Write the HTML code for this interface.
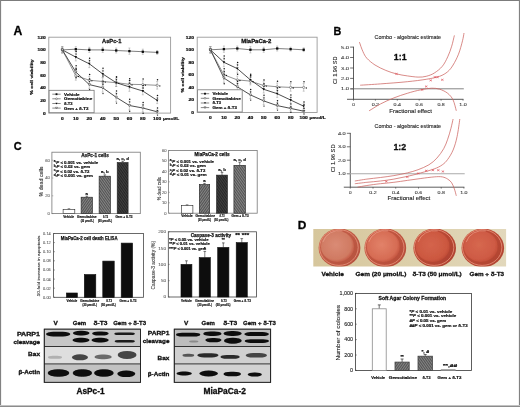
<!DOCTYPE html>
<html lang="en">
<head>
<meta charset="utf-8">
<title>Figure</title>
<style>
html, body { margin: 0; padding: 0; background: #fff; }
body { width: 520px; height: 407px; overflow: hidden; position: relative; }
svg { position: absolute; left: 0; top: 0; font-family: "Liberation Sans", sans-serif; }
svg text { font-family: "Liberation Sans", sans-serif; }
</style>
</head>
<body>
<svg width="520" height="407" viewBox="0 0 520 407">
<defs>
<pattern id="hatchG" width="2" height="2" patternUnits="userSpaceOnUse" patternTransform="rotate(35)">
<rect width="2" height="2" fill="#858585"/><rect width="0.9" height="2" fill="#4c4c4c"/>
</pattern>
<pattern id="hatchH" width="2" height="2" patternUnits="userSpaceOnUse" patternTransform="rotate(-35)">
<rect width="2" height="2" fill="#858585"/><rect width="0.9" height="2" fill="#4c4c4c"/>
</pattern>
<pattern id="hatchD" width="2" height="2" patternUnits="userSpaceOnUse" patternTransform="rotate(-35)">
<rect width="2" height="2" fill="#262626"/><rect width="0.5" height="2" fill="#5a5a5a"/>
</pattern>
<linearGradient id="photobg" x1="0" y1="0" x2="1" y2="0"><stop offset="0" stop-color="#d6c69c"/><stop offset="0.5" stop-color="#dccfaa"/><stop offset="1" stop-color="#e2d8bc"/></linearGradient>
<filter id="blur2" x="-5%" y="-5%" width="110%" height="110%"><feGaussianBlur stdDeviation="0.35"/></filter>
<filter id="soft" x="0" y="0" width="520" height="407" filterUnits="userSpaceOnUse"><feGaussianBlur stdDeviation="0.32"/></filter>
<filter id="blur1" x="-5%" y="-5%" width="110%" height="110%"><feGaussianBlur stdDeviation="0.55"/></filter>
</defs>
<rect x="0" y="0" width="520" height="407" fill="#fff"/>
<g filter="url(#soft)">
<g id="panelA">
<text x="13.5" y="34.7" font-size="12" font-weight="bold" fill="#000" stroke="#000" stroke-width="0.30" textLength="8.8" lengthAdjust="spacingAndGlyphs">A</text>
<rect x="48.8" y="37.2" width="121.8" height="75.9" fill="none" stroke="#9a9a9a" stroke-width="0.9"/>
<text x="43.0" y="114.5" font-size="3.9" font-weight="bold" fill="#111" stroke="#111" stroke-width="0.20" textLength="2.7" lengthAdjust="spacingAndGlyphs">0</text>
<text x="40.2" y="101.8" font-size="3.9" font-weight="bold" fill="#111" stroke="#111" stroke-width="0.20" textLength="5.5" lengthAdjust="spacingAndGlyphs">20</text>
<text x="40.2" y="89.2" font-size="3.9" font-weight="bold" fill="#111" stroke="#111" stroke-width="0.20" textLength="5.5" lengthAdjust="spacingAndGlyphs">40</text>
<text x="40.2" y="76.6" font-size="3.9" font-weight="bold" fill="#111" stroke="#111" stroke-width="0.20" textLength="5.5" lengthAdjust="spacingAndGlyphs">60</text>
<text x="40.2" y="63.9" font-size="3.9" font-weight="bold" fill="#111" stroke="#111" stroke-width="0.20" textLength="5.5" lengthAdjust="spacingAndGlyphs">80</text>
<text x="37.6" y="51.2" font-size="3.9" font-weight="bold" fill="#111" stroke="#111" stroke-width="0.20" textLength="8.1" lengthAdjust="spacingAndGlyphs">100</text>
<text x="37.6" y="38.6" font-size="3.9" font-weight="bold" fill="#111" stroke="#111" stroke-width="0.20" textLength="8.1" lengthAdjust="spacingAndGlyphs">120</text>
<text x="33.5" y="94.7" font-size="4.0" font-weight="bold" fill="#111" stroke="#111" stroke-width="0.20" textLength="35.4" lengthAdjust="spacingAndGlyphs" transform="rotate(-90 33.5 94.7)">% cell viability</text>
<text x="102.1" y="43.2" font-size="5.1" font-weight="bold" fill="#111" stroke="#111" stroke-width="0.26" textLength="19.3" lengthAdjust="spacingAndGlyphs">AsPc-1</text>
<text x="60.9" y="119.7" font-size="3.9" font-weight="bold" fill="#111" stroke="#111" stroke-width="0.20" textLength="2.7" lengthAdjust="spacingAndGlyphs">0</text>
<text x="73.0" y="119.7" font-size="3.9" font-weight="bold" fill="#111" stroke="#111" stroke-width="0.20" textLength="5.5" lengthAdjust="spacingAndGlyphs">10</text>
<text x="86.5" y="119.7" font-size="3.9" font-weight="bold" fill="#111" stroke="#111" stroke-width="0.20" textLength="5.5" lengthAdjust="spacingAndGlyphs">20</text>
<text x="100.0" y="119.7" font-size="3.9" font-weight="bold" fill="#111" stroke="#111" stroke-width="0.20" textLength="5.5" lengthAdjust="spacingAndGlyphs">40</text>
<text x="113.5" y="119.7" font-size="3.9" font-weight="bold" fill="#111" stroke="#111" stroke-width="0.20" textLength="5.5" lengthAdjust="spacingAndGlyphs">50</text>
<text x="126.7" y="119.7" font-size="3.9" font-weight="bold" fill="#111" stroke="#111" stroke-width="0.20" textLength="5.5" lengthAdjust="spacingAndGlyphs">60</text>
<text x="140.1" y="119.7" font-size="3.9" font-weight="bold" fill="#111" stroke="#111" stroke-width="0.20" textLength="5.5" lengthAdjust="spacingAndGlyphs">80</text>
<text x="153.1" y="119.7" font-size="3.9" font-weight="bold" fill="#111" stroke="#111" stroke-width="0.20" textLength="8.1" lengthAdjust="spacingAndGlyphs">100</text>
<text x="163.1" y="119.7" font-size="3.9" font-weight="bold" fill="#111" stroke="#111" stroke-width="0.20" textLength="16.1" lengthAdjust="spacingAndGlyphs">μmol/L</text>
<line x1="62.3" y1="47.3" x2="62.3" y2="52.4" stroke="#aaa" stroke-width="0.6"/>
<line x1="61.3" y1="47.3" x2="63.3" y2="47.3" stroke="#999" stroke-width="0.5"/>
<line x1="61.3" y1="52.4" x2="63.3" y2="52.4" stroke="#999" stroke-width="0.5"/>
<line x1="75.8" y1="46.7" x2="75.8" y2="51.7" stroke="#aaa" stroke-width="0.6"/>
<line x1="74.8" y1="46.7" x2="76.8" y2="46.7" stroke="#999" stroke-width="0.5"/>
<line x1="74.8" y1="51.7" x2="76.8" y2="51.7" stroke="#999" stroke-width="0.5"/>
<line x1="89.3" y1="47.3" x2="89.3" y2="52.4" stroke="#aaa" stroke-width="0.6"/>
<line x1="88.3" y1="47.3" x2="90.3" y2="47.3" stroke="#999" stroke-width="0.5"/>
<line x1="88.3" y1="52.4" x2="90.3" y2="52.4" stroke="#999" stroke-width="0.5"/>
<line x1="102.7" y1="47.3" x2="102.7" y2="52.4" stroke="#aaa" stroke-width="0.6"/>
<line x1="101.7" y1="47.3" x2="103.7" y2="47.3" stroke="#999" stroke-width="0.5"/>
<line x1="101.7" y1="52.4" x2="103.7" y2="52.4" stroke="#999" stroke-width="0.5"/>
<line x1="116.2" y1="48.0" x2="116.2" y2="53.0" stroke="#aaa" stroke-width="0.6"/>
<line x1="115.2" y1="48.0" x2="117.2" y2="48.0" stroke="#999" stroke-width="0.5"/>
<line x1="115.2" y1="53.0" x2="117.2" y2="53.0" stroke="#999" stroke-width="0.5"/>
<line x1="129.4" y1="48.0" x2="129.4" y2="54.3" stroke="#aaa" stroke-width="0.6"/>
<line x1="128.4" y1="48.0" x2="130.4" y2="48.0" stroke="#999" stroke-width="0.5"/>
<line x1="128.4" y1="54.3" x2="130.4" y2="54.3" stroke="#999" stroke-width="0.5"/>
<line x1="142.8" y1="49.2" x2="142.8" y2="54.3" stroke="#aaa" stroke-width="0.6"/>
<line x1="141.8" y1="49.2" x2="143.8" y2="49.2" stroke="#999" stroke-width="0.5"/>
<line x1="141.8" y1="54.3" x2="143.8" y2="54.3" stroke="#999" stroke-width="0.5"/>
<line x1="157.2" y1="50.5" x2="157.2" y2="54.3" stroke="#aaa" stroke-width="0.6"/>
<line x1="156.2" y1="50.5" x2="158.2" y2="50.5" stroke="#999" stroke-width="0.5"/>
<line x1="156.2" y1="54.3" x2="158.2" y2="54.3" stroke="#999" stroke-width="0.5"/>
<line x1="62.3" y1="46.7" x2="62.3" y2="53.0" stroke="#aaa" stroke-width="0.6"/>
<line x1="61.3" y1="46.7" x2="63.3" y2="46.7" stroke="#999" stroke-width="0.5"/>
<line x1="61.3" y1="53.0" x2="63.3" y2="53.0" stroke="#999" stroke-width="0.5"/>
<line x1="75.8" y1="71.4" x2="75.8" y2="80.2" stroke="#aaa" stroke-width="0.6"/>
<line x1="74.8" y1="71.4" x2="76.8" y2="71.4" stroke="#999" stroke-width="0.5"/>
<line x1="74.8" y1="80.2" x2="76.8" y2="80.2" stroke="#999" stroke-width="0.5"/>
<line x1="89.3" y1="76.4" x2="89.3" y2="84.0" stroke="#aaa" stroke-width="0.6"/>
<line x1="88.3" y1="76.4" x2="90.3" y2="76.4" stroke="#999" stroke-width="0.5"/>
<line x1="88.3" y1="84.0" x2="90.3" y2="84.0" stroke="#999" stroke-width="0.5"/>
<line x1="102.7" y1="77.7" x2="102.7" y2="85.3" stroke="#aaa" stroke-width="0.6"/>
<line x1="101.7" y1="77.7" x2="103.7" y2="77.7" stroke="#999" stroke-width="0.5"/>
<line x1="101.7" y1="85.3" x2="103.7" y2="85.3" stroke="#999" stroke-width="0.5"/>
<line x1="116.2" y1="78.9" x2="116.2" y2="86.5" stroke="#aaa" stroke-width="0.6"/>
<line x1="115.2" y1="78.9" x2="117.2" y2="78.9" stroke="#999" stroke-width="0.5"/>
<line x1="115.2" y1="86.5" x2="117.2" y2="86.5" stroke="#999" stroke-width="0.5"/>
<line x1="129.4" y1="80.5" x2="129.4" y2="88.1" stroke="#aaa" stroke-width="0.6"/>
<line x1="128.4" y1="80.5" x2="130.4" y2="80.5" stroke="#999" stroke-width="0.5"/>
<line x1="128.4" y1="88.1" x2="130.4" y2="88.1" stroke="#999" stroke-width="0.5"/>
<line x1="142.8" y1="80.8" x2="142.8" y2="88.4" stroke="#aaa" stroke-width="0.6"/>
<line x1="141.8" y1="80.8" x2="143.8" y2="80.8" stroke="#999" stroke-width="0.5"/>
<line x1="141.8" y1="88.4" x2="143.8" y2="88.4" stroke="#999" stroke-width="0.5"/>
<line x1="157.2" y1="81.5" x2="157.2" y2="89.1" stroke="#aaa" stroke-width="0.6"/>
<line x1="156.2" y1="81.5" x2="158.2" y2="81.5" stroke="#999" stroke-width="0.5"/>
<line x1="156.2" y1="89.1" x2="158.2" y2="89.1" stroke="#999" stroke-width="0.5"/>
<line x1="62.3" y1="46.7" x2="62.3" y2="53.0" stroke="#aaa" stroke-width="0.6"/>
<line x1="61.3" y1="46.7" x2="63.3" y2="46.7" stroke="#999" stroke-width="0.5"/>
<line x1="61.3" y1="53.0" x2="63.3" y2="53.0" stroke="#999" stroke-width="0.5"/>
<line x1="75.8" y1="53.3" x2="75.8" y2="60.9" stroke="#aaa" stroke-width="0.6"/>
<line x1="74.8" y1="53.3" x2="76.8" y2="53.3" stroke="#999" stroke-width="0.5"/>
<line x1="74.8" y1="60.9" x2="76.8" y2="60.9" stroke="#999" stroke-width="0.5"/>
<line x1="89.3" y1="60.0" x2="89.3" y2="67.6" stroke="#aaa" stroke-width="0.6"/>
<line x1="88.3" y1="60.0" x2="90.3" y2="60.0" stroke="#999" stroke-width="0.5"/>
<line x1="88.3" y1="67.6" x2="90.3" y2="67.6" stroke="#999" stroke-width="0.5"/>
<line x1="102.7" y1="70.1" x2="102.7" y2="77.7" stroke="#aaa" stroke-width="0.6"/>
<line x1="101.7" y1="70.1" x2="103.7" y2="70.1" stroke="#999" stroke-width="0.5"/>
<line x1="101.7" y1="77.7" x2="103.7" y2="77.7" stroke="#999" stroke-width="0.5"/>
<line x1="116.2" y1="78.9" x2="116.2" y2="86.5" stroke="#aaa" stroke-width="0.6"/>
<line x1="115.2" y1="78.9" x2="117.2" y2="78.9" stroke="#999" stroke-width="0.5"/>
<line x1="115.2" y1="86.5" x2="117.2" y2="86.5" stroke="#999" stroke-width="0.5"/>
<line x1="129.4" y1="82.4" x2="129.4" y2="91.3" stroke="#aaa" stroke-width="0.6"/>
<line x1="128.4" y1="82.4" x2="130.4" y2="82.4" stroke="#999" stroke-width="0.5"/>
<line x1="128.4" y1="91.3" x2="130.4" y2="91.3" stroke="#999" stroke-width="0.5"/>
<line x1="142.8" y1="87.2" x2="142.8" y2="94.8" stroke="#aaa" stroke-width="0.6"/>
<line x1="141.8" y1="87.2" x2="143.8" y2="87.2" stroke="#999" stroke-width="0.5"/>
<line x1="141.8" y1="94.8" x2="143.8" y2="94.8" stroke="#999" stroke-width="0.5"/>
<line x1="157.2" y1="97.3" x2="157.2" y2="103.6" stroke="#aaa" stroke-width="0.6"/>
<line x1="156.2" y1="97.3" x2="158.2" y2="97.3" stroke="#999" stroke-width="0.5"/>
<line x1="156.2" y1="103.6" x2="158.2" y2="103.6" stroke="#999" stroke-width="0.5"/>
<line x1="62.3" y1="46.7" x2="62.3" y2="53.0" stroke="#aaa" stroke-width="0.6"/>
<line x1="61.3" y1="46.7" x2="63.3" y2="46.7" stroke="#999" stroke-width="0.5"/>
<line x1="61.3" y1="53.0" x2="63.3" y2="53.0" stroke="#999" stroke-width="0.5"/>
<line x1="75.8" y1="67.6" x2="75.8" y2="76.4" stroke="#aaa" stroke-width="0.6"/>
<line x1="74.8" y1="67.6" x2="76.8" y2="67.6" stroke="#999" stroke-width="0.5"/>
<line x1="74.8" y1="76.4" x2="76.8" y2="76.4" stroke="#999" stroke-width="0.5"/>
<line x1="89.3" y1="80.8" x2="89.3" y2="88.4" stroke="#aaa" stroke-width="0.6"/>
<line x1="88.3" y1="80.8" x2="90.3" y2="80.8" stroke="#999" stroke-width="0.5"/>
<line x1="88.3" y1="88.4" x2="90.3" y2="88.4" stroke="#999" stroke-width="0.5"/>
<line x1="102.7" y1="83.4" x2="102.7" y2="92.2" stroke="#aaa" stroke-width="0.6"/>
<line x1="101.7" y1="83.4" x2="103.7" y2="83.4" stroke="#999" stroke-width="0.5"/>
<line x1="101.7" y1="92.2" x2="103.7" y2="92.2" stroke="#999" stroke-width="0.5"/>
<line x1="116.2" y1="92.9" x2="116.2" y2="101.7" stroke="#aaa" stroke-width="0.6"/>
<line x1="115.2" y1="92.9" x2="117.2" y2="92.9" stroke="#999" stroke-width="0.5"/>
<line x1="115.2" y1="101.7" x2="117.2" y2="101.7" stroke="#999" stroke-width="0.5"/>
<line x1="129.4" y1="101.1" x2="129.4" y2="109.9" stroke="#aaa" stroke-width="0.6"/>
<line x1="128.4" y1="101.1" x2="130.4" y2="101.1" stroke="#999" stroke-width="0.5"/>
<line x1="128.4" y1="109.9" x2="130.4" y2="109.9" stroke="#999" stroke-width="0.5"/>
<line x1="142.8" y1="104.2" x2="142.8" y2="111.8" stroke="#aaa" stroke-width="0.6"/>
<line x1="141.8" y1="104.2" x2="143.8" y2="104.2" stroke="#999" stroke-width="0.5"/>
<line x1="141.8" y1="111.8" x2="143.8" y2="111.8" stroke="#999" stroke-width="0.5"/>
<line x1="157.2" y1="109.9" x2="157.2" y2="113.7" stroke="#aaa" stroke-width="0.6"/>
<line x1="156.2" y1="109.9" x2="158.2" y2="109.9" stroke="#999" stroke-width="0.5"/>
<line x1="156.2" y1="113.7" x2="158.2" y2="113.7" stroke="#999" stroke-width="0.5"/>
<polyline points="62.3,49.9 75.8,49.2 89.3,49.9 102.7,49.9 116.2,50.5 129.4,51.1 142.8,51.7 157.2,52.4" fill="none" stroke="#606060" stroke-width="0.8" stroke-linejoin="round"/>
<polyline points="62.3,49.9 75.8,75.8 89.3,80.2 102.7,81.5 116.2,82.7 129.4,84.3 142.8,84.6 157.2,85.3" fill="none" stroke="#8c8c8c" stroke-width="0.95" stroke-linejoin="round"/>
<polyline points="62.3,49.9 75.8,57.1 89.3,63.8 102.7,73.9 116.2,82.7 129.4,86.9 142.8,91.0 157.2,100.4" fill="none" stroke="#454545" stroke-width="0.95" stroke-linejoin="round"/>
<polyline points="62.3,49.9 75.8,72.0 89.3,84.6 102.7,87.8 116.2,97.3 129.4,105.5 142.8,108.0 157.2,111.8" fill="none" stroke="#454545" stroke-width="0.95" stroke-linejoin="round"/>
<rect x="61.15" y="48.70" width="2.30" height="2.30" fill="#0a0a0a"/>
<rect x="74.65" y="48.07" width="2.30" height="2.30" fill="#0a0a0a"/>
<rect x="88.15" y="48.70" width="2.30" height="2.30" fill="#0a0a0a"/>
<rect x="101.55" y="48.70" width="2.30" height="2.30" fill="#0a0a0a"/>
<rect x="115.05" y="49.33" width="2.30" height="2.30" fill="#0a0a0a"/>
<rect x="128.25" y="49.97" width="2.30" height="2.30" fill="#0a0a0a"/>
<rect x="141.65" y="50.60" width="2.30" height="2.30" fill="#0a0a0a"/>
<rect x="156.05" y="51.23" width="2.30" height="2.30" fill="#0a0a0a"/>
<circle cx="62.3" cy="49.9" r="1.10" fill="#fff" stroke="#555" stroke-width="0.55"/>
<circle cx="75.8" cy="75.8" r="1.10" fill="#fff" stroke="#555" stroke-width="0.55"/>
<circle cx="76.1" cy="69.6" r="0.75" fill="#111"/>
<circle cx="78.4" cy="76.4" r="0.65" fill="#111"/>
<circle cx="89.3" cy="80.2" r="1.10" fill="#fff" stroke="#555" stroke-width="0.55"/>
<circle cx="89.6" cy="74.6" r="0.75" fill="#111"/>
<circle cx="91.9" cy="80.8" r="0.65" fill="#111"/>
<circle cx="102.7" cy="81.5" r="1.10" fill="#fff" stroke="#555" stroke-width="0.55"/>
<circle cx="103.0" cy="75.9" r="0.75" fill="#111"/>
<circle cx="105.3" cy="82.1" r="0.65" fill="#111"/>
<circle cx="116.2" cy="82.7" r="1.10" fill="#fff" stroke="#555" stroke-width="0.55"/>
<circle cx="116.5" cy="77.1" r="0.75" fill="#111"/>
<circle cx="118.8" cy="83.3" r="0.65" fill="#111"/>
<circle cx="129.4" cy="84.3" r="1.10" fill="#fff" stroke="#555" stroke-width="0.55"/>
<circle cx="129.7" cy="78.7" r="0.75" fill="#111"/>
<circle cx="132.0" cy="84.9" r="0.65" fill="#111"/>
<circle cx="142.8" cy="84.6" r="1.10" fill="#fff" stroke="#555" stroke-width="0.55"/>
<circle cx="143.1" cy="79.0" r="0.75" fill="#111"/>
<circle cx="145.4" cy="85.2" r="0.65" fill="#111"/>
<circle cx="157.2" cy="85.3" r="1.10" fill="#fff" stroke="#555" stroke-width="0.55"/>
<circle cx="157.5" cy="79.7" r="0.75" fill="#111"/>
<circle cx="159.8" cy="85.9" r="0.65" fill="#111"/>
<polygon points="61.0,48.9 63.5,48.9 62.3,51.1" fill="#0a0a0a"/>
<polygon points="74.5,56.1 77.0,56.1 75.8,58.4" fill="#0a0a0a"/>
<circle cx="76.1" cy="51.5" r="0.75" fill="#111"/>
<circle cx="76.1" cy="54.1" r="0.7" fill="#222"/>
<polygon points="88.0,62.8 90.5,62.8 89.3,65.0" fill="#0a0a0a"/>
<circle cx="89.6" cy="58.2" r="0.75" fill="#111"/>
<circle cx="89.6" cy="60.8" r="0.7" fill="#222"/>
<polygon points="101.5,72.9 104.0,72.9 102.7,75.1" fill="#0a0a0a"/>
<circle cx="103.0" cy="68.3" r="0.75" fill="#111"/>
<circle cx="103.0" cy="70.9" r="0.7" fill="#222"/>
<polygon points="115.0,81.7 117.5,81.7 116.2,84.0" fill="#0a0a0a"/>
<circle cx="116.5" cy="77.1" r="0.75" fill="#111"/>
<circle cx="116.5" cy="79.7" r="0.7" fill="#222"/>
<polygon points="128.2,85.9 130.7,85.9 129.4,88.1" fill="#0a0a0a"/>
<circle cx="129.7" cy="80.6" r="0.75" fill="#111"/>
<circle cx="129.7" cy="83.2" r="0.7" fill="#222"/>
<polygon points="141.6,90.0 144.1,90.0 142.8,92.2" fill="#0a0a0a"/>
<circle cx="143.1" cy="85.4" r="0.75" fill="#111"/>
<circle cx="143.1" cy="88.0" r="0.7" fill="#222"/>
<polygon points="155.9,99.4 158.4,99.4 157.2,101.7" fill="#0a0a0a"/>
<circle cx="157.5" cy="95.5" r="0.75" fill="#111"/>
<circle cx="157.5" cy="98.1" r="0.7" fill="#222"/>
<polygon points="61.1,48.9 63.5,48.9 62.3,51.1" fill="#fff" stroke="#444" stroke-width="0.55"/>
<polygon points="74.6,71.0 77.0,71.0 75.8,73.2" fill="#fff" stroke="#444" stroke-width="0.55"/>
<circle cx="76.1" cy="65.8" r="0.75" fill="#111"/>
<circle cx="76.1" cy="68.4" r="0.7" fill="#222"/>
<circle cx="76.1" cy="77.8" r="0.7" fill="#111"/>
<polygon points="88.1,83.7 90.5,83.7 89.3,85.8" fill="#fff" stroke="#444" stroke-width="0.55"/>
<circle cx="89.6" cy="79.0" r="0.75" fill="#111"/>
<circle cx="89.6" cy="81.6" r="0.7" fill="#222"/>
<circle cx="89.6" cy="89.8" r="0.7" fill="#111"/>
<polygon points="101.5,86.8 103.9,86.8 102.7,89.0" fill="#fff" stroke="#444" stroke-width="0.55"/>
<circle cx="103.0" cy="81.6" r="0.75" fill="#111"/>
<circle cx="103.0" cy="84.2" r="0.7" fill="#222"/>
<circle cx="103.0" cy="93.6" r="0.7" fill="#111"/>
<polygon points="115.0,96.3 117.4,96.3 116.2,98.5" fill="#fff" stroke="#444" stroke-width="0.55"/>
<circle cx="116.5" cy="91.1" r="0.75" fill="#111"/>
<circle cx="116.5" cy="93.7" r="0.7" fill="#222"/>
<circle cx="116.5" cy="103.1" r="0.7" fill="#111"/>
<polygon points="128.2,104.5 130.6,104.5 129.4,106.7" fill="#fff" stroke="#444" stroke-width="0.55"/>
<circle cx="129.7" cy="99.3" r="0.75" fill="#111"/>
<circle cx="129.7" cy="101.9" r="0.7" fill="#222"/>
<circle cx="129.7" cy="111.3" r="0.7" fill="#111"/>
<polygon points="141.6,107.1 144.0,107.1 142.8,109.2" fill="#fff" stroke="#444" stroke-width="0.55"/>
<circle cx="143.1" cy="102.4" r="0.75" fill="#111"/>
<circle cx="143.1" cy="105.0" r="0.7" fill="#222"/>
<circle cx="143.1" cy="113.2" r="0.7" fill="#111"/>
<polygon points="156.0,110.9 158.4,110.9 157.2,113.0" fill="#fff" stroke="#444" stroke-width="0.55"/>
<circle cx="157.5" cy="108.1" r="0.75" fill="#111"/>
<circle cx="157.5" cy="110.7" r="0.7" fill="#222"/>
<circle cx="157.5" cy="115.1" r="0.7" fill="#111"/>
<rect x="49.1" y="90.3" width="45.0" height="22.4" fill="#fff" stroke="#777" stroke-width="0.8"/>
<line x1="52.3" y1="94.2" x2="60.7" y2="94.2" stroke="#555" stroke-width="0.7"/>
<rect x="55.58" y="93.28" width="1.84" height="1.84" fill="#0a0a0a"/>
<text x="64.0" y="95.6" font-size="3.9" font-weight="bold" fill="#111" stroke="#111" stroke-width="0.20" textLength="15.6" lengthAdjust="spacingAndGlyphs">Vehicle</text>
<line x1="52.3" y1="98.8" x2="60.7" y2="98.8" stroke="#555" stroke-width="0.7"/>
<circle cx="56.5" cy="98.8" r="0.88" fill="#fff" stroke="#555" stroke-width="0.55"/>
<text x="64.0" y="100.2" font-size="3.9" font-weight="bold" fill="#111" stroke="#111" stroke-width="0.20" textLength="28.3" lengthAdjust="spacingAndGlyphs">Gemcitabine</text>
<line x1="52.3" y1="103.5" x2="60.7" y2="103.5" stroke="#555" stroke-width="0.7"/>
<polygon points="55.5,102.7 57.5,102.7 56.5,104.5" fill="#0a0a0a"/>
<text x="64.0" y="104.9" font-size="3.9" font-weight="bold" fill="#111" stroke="#111" stroke-width="0.20" textLength="8.6" lengthAdjust="spacingAndGlyphs">δ-T3</text>
<line x1="52.3" y1="108.1" x2="60.7" y2="108.1" stroke="#555" stroke-width="0.7"/>
<polygon points="55.5,107.3 57.5,107.3 56.5,109.0" fill="#fff" stroke="#444" stroke-width="0.55"/>
<text x="64.0" y="109.5" font-size="3.9" font-weight="bold" fill="#111" stroke="#111" stroke-width="0.20" textLength="24.4" lengthAdjust="spacingAndGlyphs">Gem + δ-T3</text>
<rect x="197.2" y="37.2" width="119.9" height="75.3" fill="none" stroke="#9a9a9a" stroke-width="0.9"/>
<text x="191.2" y="113.9" font-size="3.9" font-weight="bold" fill="#111" stroke="#111" stroke-width="0.20" textLength="2.7" lengthAdjust="spacingAndGlyphs">0</text>
<text x="188.4" y="101.4" font-size="3.9" font-weight="bold" fill="#111" stroke="#111" stroke-width="0.20" textLength="5.5" lengthAdjust="spacingAndGlyphs">20</text>
<text x="188.4" y="88.8" font-size="3.9" font-weight="bold" fill="#111" stroke="#111" stroke-width="0.20" textLength="5.5" lengthAdjust="spacingAndGlyphs">40</text>
<text x="188.4" y="76.2" font-size="3.9" font-weight="bold" fill="#111" stroke="#111" stroke-width="0.20" textLength="5.5" lengthAdjust="spacingAndGlyphs">60</text>
<text x="188.4" y="63.7" font-size="3.9" font-weight="bold" fill="#111" stroke="#111" stroke-width="0.20" textLength="5.5" lengthAdjust="spacingAndGlyphs">80</text>
<text x="185.8" y="51.2" font-size="3.9" font-weight="bold" fill="#111" stroke="#111" stroke-width="0.20" textLength="8.1" lengthAdjust="spacingAndGlyphs">100</text>
<text x="185.8" y="38.6" font-size="3.9" font-weight="bold" fill="#111" stroke="#111" stroke-width="0.20" textLength="8.1" lengthAdjust="spacingAndGlyphs">120</text>
<text x="183.9" y="92.5" font-size="4.0" font-weight="bold" fill="#111" stroke="#111" stroke-width="0.20" textLength="35.4" lengthAdjust="spacingAndGlyphs" transform="rotate(-90 183.9 92.5)">% cell viability</text>
<text x="241.2" y="42.5" font-size="5.1" font-weight="bold" fill="#111" stroke="#111" stroke-width="0.26" textLength="30.2" lengthAdjust="spacingAndGlyphs">MiaPaCa-2</text>
<text x="209.1" y="119.1" font-size="3.9" font-weight="bold" fill="#111" stroke="#111" stroke-width="0.20" textLength="2.7" lengthAdjust="spacingAndGlyphs">0</text>
<text x="221.2" y="119.1" font-size="3.9" font-weight="bold" fill="#111" stroke="#111" stroke-width="0.20" textLength="5.5" lengthAdjust="spacingAndGlyphs">10</text>
<text x="234.6" y="119.1" font-size="3.9" font-weight="bold" fill="#111" stroke="#111" stroke-width="0.20" textLength="5.5" lengthAdjust="spacingAndGlyphs">20</text>
<text x="247.7" y="119.1" font-size="3.9" font-weight="bold" fill="#111" stroke="#111" stroke-width="0.20" textLength="5.5" lengthAdjust="spacingAndGlyphs">40</text>
<text x="260.9" y="119.1" font-size="3.9" font-weight="bold" fill="#111" stroke="#111" stroke-width="0.20" textLength="5.5" lengthAdjust="spacingAndGlyphs">50</text>
<text x="274.4" y="119.1" font-size="3.9" font-weight="bold" fill="#111" stroke="#111" stroke-width="0.20" textLength="5.5" lengthAdjust="spacingAndGlyphs">60</text>
<text x="287.9" y="119.1" font-size="3.9" font-weight="bold" fill="#111" stroke="#111" stroke-width="0.20" textLength="5.5" lengthAdjust="spacingAndGlyphs">80</text>
<text x="299.6" y="119.1" font-size="3.9" font-weight="bold" fill="#111" stroke="#111" stroke-width="0.20" textLength="8.1" lengthAdjust="spacingAndGlyphs">100</text>
<text x="309.6" y="119.1" font-size="3.9" font-weight="bold" fill="#111" stroke="#111" stroke-width="0.20" textLength="16.1" lengthAdjust="spacingAndGlyphs">μmol/L</text>
<line x1="210.4" y1="46.6" x2="210.4" y2="52.9" stroke="#aaa" stroke-width="0.6"/>
<line x1="209.4" y1="46.6" x2="211.4" y2="46.6" stroke="#999" stroke-width="0.5"/>
<line x1="209.4" y1="52.9" x2="211.4" y2="52.9" stroke="#999" stroke-width="0.5"/>
<line x1="223.9" y1="46.0" x2="223.9" y2="52.3" stroke="#aaa" stroke-width="0.6"/>
<line x1="222.9" y1="46.0" x2="224.9" y2="46.0" stroke="#999" stroke-width="0.5"/>
<line x1="222.9" y1="52.3" x2="224.9" y2="52.3" stroke="#999" stroke-width="0.5"/>
<line x1="237.3" y1="46.0" x2="237.3" y2="51.0" stroke="#aaa" stroke-width="0.6"/>
<line x1="236.3" y1="46.0" x2="238.3" y2="46.0" stroke="#999" stroke-width="0.5"/>
<line x1="236.3" y1="51.0" x2="238.3" y2="51.0" stroke="#999" stroke-width="0.5"/>
<line x1="250.4" y1="46.6" x2="250.4" y2="52.9" stroke="#aaa" stroke-width="0.6"/>
<line x1="249.4" y1="46.6" x2="251.4" y2="46.6" stroke="#999" stroke-width="0.5"/>
<line x1="249.4" y1="52.9" x2="251.4" y2="52.9" stroke="#999" stroke-width="0.5"/>
<line x1="263.7" y1="47.2" x2="263.7" y2="52.3" stroke="#aaa" stroke-width="0.6"/>
<line x1="262.7" y1="47.2" x2="264.7" y2="47.2" stroke="#999" stroke-width="0.5"/>
<line x1="262.7" y1="52.3" x2="264.7" y2="52.3" stroke="#999" stroke-width="0.5"/>
<line x1="277.2" y1="46.0" x2="277.2" y2="51.0" stroke="#aaa" stroke-width="0.6"/>
<line x1="276.2" y1="46.0" x2="278.2" y2="46.0" stroke="#999" stroke-width="0.5"/>
<line x1="276.2" y1="51.0" x2="278.2" y2="51.0" stroke="#999" stroke-width="0.5"/>
<line x1="290.6" y1="47.2" x2="290.6" y2="51.0" stroke="#aaa" stroke-width="0.6"/>
<line x1="289.6" y1="47.2" x2="291.6" y2="47.2" stroke="#999" stroke-width="0.5"/>
<line x1="289.6" y1="51.0" x2="291.6" y2="51.0" stroke="#999" stroke-width="0.5"/>
<line x1="303.7" y1="47.9" x2="303.7" y2="51.6" stroke="#aaa" stroke-width="0.6"/>
<line x1="302.7" y1="47.9" x2="304.7" y2="47.9" stroke="#999" stroke-width="0.5"/>
<line x1="302.7" y1="51.6" x2="304.7" y2="51.6" stroke="#999" stroke-width="0.5"/>
<line x1="210.4" y1="46.6" x2="210.4" y2="52.9" stroke="#aaa" stroke-width="0.6"/>
<line x1="209.4" y1="46.6" x2="211.4" y2="46.6" stroke="#999" stroke-width="0.5"/>
<line x1="209.4" y1="52.9" x2="211.4" y2="52.9" stroke="#999" stroke-width="0.5"/>
<line x1="223.9" y1="70.5" x2="223.9" y2="79.2" stroke="#aaa" stroke-width="0.6"/>
<line x1="222.9" y1="70.5" x2="224.9" y2="70.5" stroke="#999" stroke-width="0.5"/>
<line x1="222.9" y1="79.2" x2="224.9" y2="79.2" stroke="#999" stroke-width="0.5"/>
<line x1="237.3" y1="76.1" x2="237.3" y2="83.6" stroke="#aaa" stroke-width="0.6"/>
<line x1="236.3" y1="76.1" x2="238.3" y2="76.1" stroke="#999" stroke-width="0.5"/>
<line x1="236.3" y1="83.6" x2="238.3" y2="83.6" stroke="#999" stroke-width="0.5"/>
<line x1="250.4" y1="77.4" x2="250.4" y2="84.9" stroke="#aaa" stroke-width="0.6"/>
<line x1="249.4" y1="77.4" x2="251.4" y2="77.4" stroke="#999" stroke-width="0.5"/>
<line x1="249.4" y1="84.9" x2="251.4" y2="84.9" stroke="#999" stroke-width="0.5"/>
<line x1="263.7" y1="81.8" x2="263.7" y2="89.3" stroke="#aaa" stroke-width="0.6"/>
<line x1="262.7" y1="81.8" x2="264.7" y2="81.8" stroke="#999" stroke-width="0.5"/>
<line x1="262.7" y1="89.3" x2="264.7" y2="89.3" stroke="#999" stroke-width="0.5"/>
<line x1="277.2" y1="83.0" x2="277.2" y2="90.5" stroke="#aaa" stroke-width="0.6"/>
<line x1="276.2" y1="83.0" x2="278.2" y2="83.0" stroke="#999" stroke-width="0.5"/>
<line x1="276.2" y1="90.5" x2="278.2" y2="90.5" stroke="#999" stroke-width="0.5"/>
<line x1="290.6" y1="83.6" x2="290.6" y2="91.2" stroke="#aaa" stroke-width="0.6"/>
<line x1="289.6" y1="83.6" x2="291.6" y2="83.6" stroke="#999" stroke-width="0.5"/>
<line x1="289.6" y1="91.2" x2="291.6" y2="91.2" stroke="#999" stroke-width="0.5"/>
<line x1="303.7" y1="83.6" x2="303.7" y2="91.2" stroke="#aaa" stroke-width="0.6"/>
<line x1="302.7" y1="83.6" x2="304.7" y2="83.6" stroke="#999" stroke-width="0.5"/>
<line x1="302.7" y1="91.2" x2="304.7" y2="91.2" stroke="#999" stroke-width="0.5"/>
<line x1="210.4" y1="46.6" x2="210.4" y2="52.9" stroke="#aaa" stroke-width="0.6"/>
<line x1="209.4" y1="46.6" x2="211.4" y2="46.6" stroke="#999" stroke-width="0.5"/>
<line x1="209.4" y1="52.9" x2="211.4" y2="52.9" stroke="#999" stroke-width="0.5"/>
<line x1="223.9" y1="57.9" x2="223.9" y2="66.7" stroke="#aaa" stroke-width="0.6"/>
<line x1="222.9" y1="57.9" x2="224.9" y2="57.9" stroke="#999" stroke-width="0.5"/>
<line x1="222.9" y1="66.7" x2="224.9" y2="66.7" stroke="#999" stroke-width="0.5"/>
<line x1="237.3" y1="64.2" x2="237.3" y2="73.0" stroke="#aaa" stroke-width="0.6"/>
<line x1="236.3" y1="64.2" x2="238.3" y2="64.2" stroke="#999" stroke-width="0.5"/>
<line x1="236.3" y1="73.0" x2="238.3" y2="73.0" stroke="#999" stroke-width="0.5"/>
<line x1="250.4" y1="76.1" x2="250.4" y2="83.6" stroke="#aaa" stroke-width="0.6"/>
<line x1="249.4" y1="76.1" x2="251.4" y2="76.1" stroke="#999" stroke-width="0.5"/>
<line x1="249.4" y1="83.6" x2="251.4" y2="83.6" stroke="#999" stroke-width="0.5"/>
<line x1="263.7" y1="85.5" x2="263.7" y2="93.0" stroke="#aaa" stroke-width="0.6"/>
<line x1="262.7" y1="85.5" x2="264.7" y2="85.5" stroke="#999" stroke-width="0.5"/>
<line x1="262.7" y1="93.0" x2="264.7" y2="93.0" stroke="#999" stroke-width="0.5"/>
<line x1="277.2" y1="89.9" x2="277.2" y2="97.4" stroke="#aaa" stroke-width="0.6"/>
<line x1="276.2" y1="89.9" x2="278.2" y2="89.9" stroke="#999" stroke-width="0.5"/>
<line x1="276.2" y1="97.4" x2="278.2" y2="97.4" stroke="#999" stroke-width="0.5"/>
<line x1="290.6" y1="96.8" x2="290.6" y2="103.1" stroke="#aaa" stroke-width="0.6"/>
<line x1="289.6" y1="96.8" x2="291.6" y2="96.8" stroke="#999" stroke-width="0.5"/>
<line x1="289.6" y1="103.1" x2="291.6" y2="103.1" stroke="#999" stroke-width="0.5"/>
<line x1="303.7" y1="103.7" x2="303.7" y2="108.7" stroke="#aaa" stroke-width="0.6"/>
<line x1="302.7" y1="103.7" x2="304.7" y2="103.7" stroke="#999" stroke-width="0.5"/>
<line x1="302.7" y1="108.7" x2="304.7" y2="108.7" stroke="#999" stroke-width="0.5"/>
<line x1="210.4" y1="46.6" x2="210.4" y2="52.9" stroke="#aaa" stroke-width="0.6"/>
<line x1="209.4" y1="46.6" x2="211.4" y2="46.6" stroke="#999" stroke-width="0.5"/>
<line x1="209.4" y1="52.9" x2="211.4" y2="52.9" stroke="#999" stroke-width="0.5"/>
<line x1="223.9" y1="73.6" x2="223.9" y2="82.4" stroke="#aaa" stroke-width="0.6"/>
<line x1="222.9" y1="73.6" x2="224.9" y2="73.6" stroke="#999" stroke-width="0.5"/>
<line x1="222.9" y1="82.4" x2="224.9" y2="82.4" stroke="#999" stroke-width="0.5"/>
<line x1="237.3" y1="83.0" x2="237.3" y2="90.5" stroke="#aaa" stroke-width="0.6"/>
<line x1="236.3" y1="83.0" x2="238.3" y2="83.0" stroke="#999" stroke-width="0.5"/>
<line x1="236.3" y1="90.5" x2="238.3" y2="90.5" stroke="#999" stroke-width="0.5"/>
<line x1="250.4" y1="91.2" x2="250.4" y2="98.7" stroke="#aaa" stroke-width="0.6"/>
<line x1="249.4" y1="91.2" x2="251.4" y2="91.2" stroke="#999" stroke-width="0.5"/>
<line x1="249.4" y1="98.7" x2="251.4" y2="98.7" stroke="#999" stroke-width="0.5"/>
<line x1="263.7" y1="97.1" x2="263.7" y2="104.7" stroke="#aaa" stroke-width="0.6"/>
<line x1="262.7" y1="97.1" x2="264.7" y2="97.1" stroke="#999" stroke-width="0.5"/>
<line x1="262.7" y1="104.7" x2="264.7" y2="104.7" stroke="#999" stroke-width="0.5"/>
<line x1="277.2" y1="102.5" x2="277.2" y2="108.7" stroke="#aaa" stroke-width="0.6"/>
<line x1="276.2" y1="102.5" x2="278.2" y2="102.5" stroke="#999" stroke-width="0.5"/>
<line x1="276.2" y1="108.7" x2="278.2" y2="108.7" stroke="#999" stroke-width="0.5"/>
<line x1="290.6" y1="105.9" x2="290.6" y2="110.9" stroke="#aaa" stroke-width="0.6"/>
<line x1="289.6" y1="105.9" x2="291.6" y2="105.9" stroke="#999" stroke-width="0.5"/>
<line x1="289.6" y1="110.9" x2="291.6" y2="110.9" stroke="#999" stroke-width="0.5"/>
<line x1="303.7" y1="110.0" x2="303.7" y2="112.5" stroke="#aaa" stroke-width="0.6"/>
<line x1="302.7" y1="110.0" x2="304.7" y2="110.0" stroke="#999" stroke-width="0.5"/>
<line x1="302.7" y1="112.5" x2="304.7" y2="112.5" stroke="#999" stroke-width="0.5"/>
<polyline points="210.4,49.8 223.9,49.1 237.3,48.5 250.4,49.8 263.7,49.8 277.2,48.5 290.6,49.1 303.7,49.8" fill="none" stroke="#606060" stroke-width="0.8" stroke-linejoin="round"/>
<polyline points="210.4,49.8 223.9,74.8 237.3,79.9 250.4,81.1 263.7,85.5 277.2,86.8 290.6,87.4 303.7,87.4" fill="none" stroke="#8c8c8c" stroke-width="0.95" stroke-linejoin="round"/>
<polyline points="210.4,49.8 223.9,62.3 237.3,68.6 250.4,79.9 263.7,89.3 277.2,93.7 290.6,100.0 303.7,106.2" fill="none" stroke="#454545" stroke-width="0.95" stroke-linejoin="round"/>
<polyline points="210.4,49.8 223.9,78.0 237.3,86.8 250.4,94.9 263.7,100.9 277.2,105.6 290.6,108.4 303.7,111.2" fill="none" stroke="#454545" stroke-width="0.95" stroke-linejoin="round"/>
<rect x="209.25" y="48.60" width="2.30" height="2.30" fill="#0a0a0a"/>
<rect x="222.75" y="47.97" width="2.30" height="2.30" fill="#0a0a0a"/>
<rect x="236.15" y="47.35" width="2.30" height="2.30" fill="#0a0a0a"/>
<rect x="249.25" y="48.60" width="2.30" height="2.30" fill="#0a0a0a"/>
<rect x="262.55" y="48.60" width="2.30" height="2.30" fill="#0a0a0a"/>
<rect x="276.05" y="47.35" width="2.30" height="2.30" fill="#0a0a0a"/>
<rect x="289.45" y="47.97" width="2.30" height="2.30" fill="#0a0a0a"/>
<rect x="302.55" y="48.60" width="2.30" height="2.30" fill="#0a0a0a"/>
<circle cx="210.4" cy="49.8" r="1.10" fill="#fff" stroke="#555" stroke-width="0.55"/>
<circle cx="223.9" cy="74.8" r="1.10" fill="#fff" stroke="#555" stroke-width="0.55"/>
<circle cx="224.2" cy="68.7" r="0.75" fill="#111"/>
<circle cx="226.5" cy="75.4" r="0.65" fill="#111"/>
<circle cx="237.3" cy="79.9" r="1.10" fill="#fff" stroke="#555" stroke-width="0.55"/>
<circle cx="237.6" cy="74.3" r="0.75" fill="#111"/>
<circle cx="239.9" cy="80.5" r="0.65" fill="#111"/>
<circle cx="250.4" cy="81.1" r="1.10" fill="#fff" stroke="#555" stroke-width="0.55"/>
<circle cx="250.7" cy="75.6" r="0.75" fill="#111"/>
<circle cx="253.0" cy="81.7" r="0.65" fill="#111"/>
<circle cx="263.7" cy="85.5" r="1.10" fill="#fff" stroke="#555" stroke-width="0.55"/>
<circle cx="264.0" cy="80.0" r="0.75" fill="#111"/>
<circle cx="266.3" cy="86.1" r="0.65" fill="#111"/>
<circle cx="277.2" cy="86.8" r="1.10" fill="#fff" stroke="#555" stroke-width="0.55"/>
<circle cx="277.5" cy="81.2" r="0.75" fill="#111"/>
<circle cx="279.8" cy="87.4" r="0.65" fill="#111"/>
<circle cx="290.6" cy="87.4" r="1.10" fill="#fff" stroke="#555" stroke-width="0.55"/>
<circle cx="290.9" cy="81.8" r="0.75" fill="#111"/>
<circle cx="293.2" cy="88.0" r="0.65" fill="#111"/>
<circle cx="303.7" cy="87.4" r="1.10" fill="#fff" stroke="#555" stroke-width="0.55"/>
<circle cx="304.0" cy="81.8" r="0.75" fill="#111"/>
<circle cx="306.3" cy="88.0" r="0.65" fill="#111"/>
<polygon points="209.2,48.8 211.7,48.8 210.4,51.0" fill="#0a0a0a"/>
<polygon points="222.7,61.3 225.2,61.3 223.9,63.6" fill="#0a0a0a"/>
<circle cx="224.2" cy="56.1" r="0.75" fill="#111"/>
<circle cx="224.2" cy="58.7" r="0.7" fill="#222"/>
<polygon points="236.1,67.6 238.6,67.6 237.3,69.8" fill="#0a0a0a"/>
<circle cx="237.6" cy="62.4" r="0.75" fill="#111"/>
<circle cx="237.6" cy="65.0" r="0.7" fill="#222"/>
<polygon points="249.2,78.9 251.7,78.9 250.4,81.1" fill="#0a0a0a"/>
<circle cx="250.7" cy="74.3" r="0.75" fill="#111"/>
<circle cx="250.7" cy="76.9" r="0.7" fill="#222"/>
<polygon points="262.4,88.3 264.9,88.3 263.7,90.5" fill="#0a0a0a"/>
<circle cx="264.0" cy="83.7" r="0.75" fill="#111"/>
<circle cx="264.0" cy="86.3" r="0.7" fill="#222"/>
<polygon points="275.9,92.7 278.4,92.7 277.2,94.9" fill="#0a0a0a"/>
<circle cx="277.5" cy="88.1" r="0.75" fill="#111"/>
<circle cx="277.5" cy="90.7" r="0.7" fill="#222"/>
<polygon points="289.4,99.0 291.9,99.0 290.6,101.2" fill="#0a0a0a"/>
<circle cx="290.9" cy="95.0" r="0.75" fill="#111"/>
<circle cx="290.9" cy="97.6" r="0.7" fill="#222"/>
<polygon points="302.4,105.2 304.9,105.2 303.7,107.5" fill="#0a0a0a"/>
<circle cx="304.0" cy="101.9" r="0.75" fill="#111"/>
<circle cx="304.0" cy="104.5" r="0.7" fill="#222"/>
<polygon points="209.2,48.8 211.6,48.8 210.4,51.0" fill="#fff" stroke="#444" stroke-width="0.55"/>
<polygon points="222.7,77.0 225.1,77.0 223.9,79.2" fill="#fff" stroke="#444" stroke-width="0.55"/>
<circle cx="224.2" cy="71.8" r="0.75" fill="#111"/>
<circle cx="224.2" cy="74.4" r="0.7" fill="#222"/>
<circle cx="224.2" cy="83.8" r="0.7" fill="#111"/>
<polygon points="236.1,85.8 238.5,85.8 237.3,88.0" fill="#fff" stroke="#444" stroke-width="0.55"/>
<circle cx="237.6" cy="81.2" r="0.75" fill="#111"/>
<circle cx="237.6" cy="83.8" r="0.7" fill="#222"/>
<circle cx="237.6" cy="91.9" r="0.7" fill="#111"/>
<polygon points="249.2,94.0 251.6,94.0 250.4,96.1" fill="#fff" stroke="#444" stroke-width="0.55"/>
<circle cx="250.7" cy="89.4" r="0.75" fill="#111"/>
<circle cx="250.7" cy="92.0" r="0.7" fill="#222"/>
<circle cx="250.7" cy="100.1" r="0.7" fill="#111"/>
<polygon points="262.5,99.9 264.9,99.9 263.7,102.1" fill="#fff" stroke="#444" stroke-width="0.55"/>
<circle cx="264.0" cy="95.3" r="0.75" fill="#111"/>
<circle cx="264.0" cy="97.9" r="0.7" fill="#222"/>
<circle cx="264.0" cy="106.1" r="0.7" fill="#111"/>
<polygon points="276.0,104.6 278.4,104.6 277.2,106.8" fill="#fff" stroke="#444" stroke-width="0.55"/>
<circle cx="277.5" cy="100.7" r="0.75" fill="#111"/>
<circle cx="277.5" cy="103.3" r="0.7" fill="#222"/>
<circle cx="277.5" cy="110.1" r="0.7" fill="#111"/>
<polygon points="289.4,107.5 291.8,107.5 290.6,109.6" fill="#fff" stroke="#444" stroke-width="0.55"/>
<circle cx="290.9" cy="104.1" r="0.75" fill="#111"/>
<circle cx="290.9" cy="106.7" r="0.7" fill="#222"/>
<circle cx="290.9" cy="112.3" r="0.7" fill="#111"/>
<polygon points="302.5,110.3 304.9,110.3 303.7,112.4" fill="#fff" stroke="#444" stroke-width="0.55"/>
<circle cx="304.0" cy="108.2" r="0.75" fill="#111"/>
<circle cx="304.0" cy="110.8" r="0.7" fill="#222"/>
<circle cx="304.0" cy="113.9" r="0.7" fill="#111"/>
<rect x="197.6" y="89.8" width="44.6" height="22.2" fill="#fff" stroke="#777" stroke-width="0.8"/>
<line x1="200.8" y1="93.7" x2="209.2" y2="93.7" stroke="#555" stroke-width="0.7"/>
<rect x="204.08" y="92.78" width="1.84" height="1.84" fill="#0a0a0a"/>
<text x="212.5" y="95.1" font-size="3.9" font-weight="bold" fill="#111" stroke="#111" stroke-width="0.20" textLength="15.6" lengthAdjust="spacingAndGlyphs">Vehicle</text>
<line x1="200.8" y1="98.3" x2="209.2" y2="98.3" stroke="#555" stroke-width="0.7"/>
<circle cx="205.0" cy="98.3" r="0.88" fill="#fff" stroke="#555" stroke-width="0.55"/>
<text x="212.5" y="99.7" font-size="3.9" font-weight="bold" fill="#111" stroke="#111" stroke-width="0.20" textLength="28.3" lengthAdjust="spacingAndGlyphs">Gemcitabine</text>
<line x1="200.8" y1="103.0" x2="209.2" y2="103.0" stroke="#555" stroke-width="0.7"/>
<polygon points="204.0,102.2 206.0,102.2 205.0,104.0" fill="#0a0a0a"/>
<text x="212.5" y="104.4" font-size="3.9" font-weight="bold" fill="#111" stroke="#111" stroke-width="0.20" textLength="8.6" lengthAdjust="spacingAndGlyphs">δ-T3</text>
<line x1="200.8" y1="107.6" x2="209.2" y2="107.6" stroke="#555" stroke-width="0.7"/>
<polygon points="204.0,106.8 206.0,106.8 205.0,108.5" fill="#fff" stroke="#444" stroke-width="0.55"/>
<text x="212.5" y="109.0" font-size="3.9" font-weight="bold" fill="#111" stroke="#111" stroke-width="0.20" textLength="24.4" lengthAdjust="spacingAndGlyphs">Gem + δ-T3</text>
</g>
<g id="panelB">
<text x="333.5" y="34.6" font-size="11.8" font-weight="bold" fill="#000" stroke="#000" stroke-width="0.30" textLength="7.8" lengthAdjust="spacingAndGlyphs">B</text>
<text x="374.6" y="38.8" font-size="5.0" font-weight="normal" fill="#222" stroke="#222" stroke-width="0.10" textLength="66.5" lengthAdjust="spacingAndGlyphs">Combo - algebraic estimate</text>
<line x1="347.0" y1="99.3" x2="463.5" y2="99.3" stroke="#333" stroke-width="0.8"/>
<line x1="353.5" y1="46.7" x2="353.5" y2="99.3" stroke="#333" stroke-width="0.8"/>
<text x="341.1" y="90.4" font-size="4.2" font-weight="normal" fill="#333" stroke="#333" stroke-width="0.08" textLength="7.8" lengthAdjust="spacingAndGlyphs">1.0</text>
<line x1="350.1" y1="88.9" x2="353.5" y2="88.9" stroke="#333" stroke-width="0.7"/>
<text x="341.1" y="79.9" font-size="4.2" font-weight="normal" fill="#333" stroke="#333" stroke-width="0.08" textLength="7.8" lengthAdjust="spacingAndGlyphs">2.0</text>
<line x1="350.1" y1="78.4" x2="353.5" y2="78.4" stroke="#333" stroke-width="0.7"/>
<text x="341.1" y="69.5" font-size="4.2" font-weight="normal" fill="#333" stroke="#333" stroke-width="0.08" textLength="7.8" lengthAdjust="spacingAndGlyphs">3.0</text>
<line x1="350.1" y1="68.0" x2="353.5" y2="68.0" stroke="#333" stroke-width="0.7"/>
<text x="341.1" y="59.0" font-size="4.2" font-weight="normal" fill="#333" stroke="#333" stroke-width="0.08" textLength="7.8" lengthAdjust="spacingAndGlyphs">4.0</text>
<line x1="350.1" y1="57.5" x2="353.5" y2="57.5" stroke="#333" stroke-width="0.7"/>
<text x="341.1" y="48.6" font-size="4.2" font-weight="normal" fill="#333" stroke="#333" stroke-width="0.08" textLength="7.8" lengthAdjust="spacingAndGlyphs">5.0</text>
<line x1="350.1" y1="47.1" x2="353.5" y2="47.1" stroke="#333" stroke-width="0.7"/>
<line x1="353.5" y1="99.3" x2="353.5" y2="100.7" stroke="#333" stroke-width="0.6"/>
<text x="352.2" y="105.6" font-size="4.2" font-weight="normal" fill="#333" stroke="#333" stroke-width="0.08" textLength="2.6" lengthAdjust="spacingAndGlyphs">0</text>
<line x1="375.4" y1="99.3" x2="375.4" y2="100.7" stroke="#333" stroke-width="0.6"/>
<text x="371.7" y="105.6" font-size="4.2" font-weight="normal" fill="#333" stroke="#333" stroke-width="0.08" textLength="7.4" lengthAdjust="spacingAndGlyphs">0.2</text>
<line x1="397.3" y1="99.3" x2="397.3" y2="100.7" stroke="#333" stroke-width="0.6"/>
<text x="393.6" y="105.6" font-size="4.2" font-weight="normal" fill="#333" stroke="#333" stroke-width="0.08" textLength="7.4" lengthAdjust="spacingAndGlyphs">0.4</text>
<line x1="419.2" y1="99.3" x2="419.2" y2="100.7" stroke="#333" stroke-width="0.6"/>
<text x="415.5" y="105.6" font-size="4.2" font-weight="normal" fill="#333" stroke="#333" stroke-width="0.08" textLength="7.4" lengthAdjust="spacingAndGlyphs">0.6</text>
<line x1="441.1" y1="99.3" x2="441.1" y2="100.7" stroke="#333" stroke-width="0.6"/>
<text x="437.4" y="105.6" font-size="4.2" font-weight="normal" fill="#333" stroke="#333" stroke-width="0.08" textLength="7.4" lengthAdjust="spacingAndGlyphs">0.8</text>
<line x1="463.0" y1="99.3" x2="463.0" y2="100.7" stroke="#333" stroke-width="0.6"/>
<text x="459.3" y="105.6" font-size="4.2" font-weight="normal" fill="#333" stroke="#333" stroke-width="0.08" textLength="7.4" lengthAdjust="spacingAndGlyphs">1.0</text>
<line x1="350.5" y1="88.8" x2="463.8" y2="88.8" stroke="#5a5a5a" stroke-width="0.75"/>
<text x="389.3" y="112.8" font-size="5.0" font-weight="normal" fill="#222" stroke="#222" stroke-width="0.10" textLength="42.7" lengthAdjust="spacingAndGlyphs">Fractional effect</text>
<text x="337.4" y="84.0" font-size="4.6" font-weight="normal" fill="#222" stroke="#222" stroke-width="0.09" textLength="27.5" lengthAdjust="spacingAndGlyphs" transform="rotate(-90 337.4 84.0)">CI 1.96 SD</text>
<path d="M359.4,42.1 C360.0,43.7 361.6,48.8 362.9,51.5 C364.1,54.2 364.9,56.0 366.9,58.3 C368.9,60.5 371.9,63.0 375.0,65.0 C378.1,67.0 382.2,68.9 385.8,70.4 C389.4,71.9 392.9,73.0 396.5,73.9 C400.1,74.8 403.7,75.4 407.3,75.9 C410.9,76.4 415.0,77.0 418.1,77.1 C421.2,77.2 423.5,77.0 426.2,76.3 C428.9,75.6 431.5,74.8 434.2,73.1 C436.9,71.4 440.1,69.0 442.3,66.3 C444.6,63.6 446.1,60.2 447.7,56.9 C449.3,53.5 450.6,49.8 451.7,46.2 C452.8,42.6 453.9,37.2 454.4,35.4" fill="none" stroke="#cc6460" stroke-width="0.75"/>
<path d="M360.2,85.2 C363.6,85.0 372.5,84.5 380.4,83.9 C388.2,83.3 399.7,82.5 407.3,81.7 C414.9,80.9 420.8,80.2 426.2,79.3 C431.6,78.4 436.0,77.6 439.6,76.3 C443.2,75.0 445.4,73.6 447.7,71.7 C449.9,69.8 451.3,67.9 453.1,65.0 C454.9,62.1 456.9,58.2 458.5,54.2 C460.1,50.2 461.6,44.3 462.5,40.8 C463.4,37.3 463.8,34.3 464.0,33.0" fill="none" stroke="#cc6460" stroke-width="0.75"/>
<path d="M369.1,110.8 C371.0,109.7 376.3,106.2 380.4,104.0 C384.5,101.8 389.4,99.7 393.9,97.9 C398.4,96.1 402.8,94.7 407.3,93.3 C411.8,91.9 416.8,90.6 420.8,89.8 C424.8,89.0 428.4,88.3 431.5,88.2 C434.6,88.1 436.9,88.4 439.6,89.2 C442.3,90.0 445.4,91.5 447.7,93.3 C449.9,95.1 451.7,97.1 453.1,100.0 C454.5,102.9 455.8,109.0 456.3,110.8" fill="none" stroke="#cc6460" stroke-width="0.75"/>
<line x1="395.3" y1="73.1" x2="397.7" y2="74.7" stroke="#e0505a" stroke-width="0.65"/>
<line x1="395.3" y1="74.7" x2="397.7" y2="73.1" stroke="#e0505a" stroke-width="0.65"/>
<line x1="420.9" y1="89.0" x2="423.3" y2="90.6" stroke="#e0505a" stroke-width="0.65"/>
<line x1="420.9" y1="90.6" x2="423.3" y2="89.0" stroke="#e0505a" stroke-width="0.65"/>
<line x1="425.0" y1="85.7" x2="427.4" y2="87.3" stroke="#e0505a" stroke-width="0.65"/>
<line x1="425.0" y1="87.3" x2="427.4" y2="85.7" stroke="#e0505a" stroke-width="0.65"/>
<line x1="429.5" y1="79.6" x2="431.9" y2="81.2" stroke="#e0505a" stroke-width="0.65"/>
<line x1="429.5" y1="81.2" x2="431.9" y2="79.6" stroke="#e0505a" stroke-width="0.65"/>
<line x1="433.6" y1="76.3" x2="436.0" y2="77.9" stroke="#e0505a" stroke-width="0.65"/>
<line x1="433.6" y1="77.9" x2="436.0" y2="76.3" stroke="#e0505a" stroke-width="0.65"/>
<line x1="436.3" y1="76.3" x2="438.7" y2="77.9" stroke="#e0505a" stroke-width="0.65"/>
<line x1="436.3" y1="77.9" x2="438.7" y2="76.3" stroke="#e0505a" stroke-width="0.65"/>
<line x1="441.1" y1="79.0" x2="443.5" y2="80.6" stroke="#e0505a" stroke-width="0.65"/>
<line x1="441.1" y1="80.6" x2="443.5" y2="79.0" stroke="#e0505a" stroke-width="0.65"/>
<text x="393.8" y="60.0" font-size="9.6" font-weight="bold" fill="#111" stroke="#111" stroke-width="0.30" textLength="12.8" lengthAdjust="spacingAndGlyphs">1:1</text>
<text x="374.6" y="128.1" font-size="5.0" font-weight="normal" fill="#222" stroke="#222" stroke-width="0.10" textLength="66.5" lengthAdjust="spacingAndGlyphs">Combo - algebraic estimate</text>
<line x1="343.8" y1="187.2" x2="464.4" y2="187.2" stroke="#333" stroke-width="0.8"/>
<line x1="350.3" y1="132.9" x2="350.3" y2="187.2" stroke="#333" stroke-width="0.8"/>
<text x="337.9" y="175.2" font-size="4.2" font-weight="normal" fill="#333" stroke="#333" stroke-width="0.08" textLength="7.8" lengthAdjust="spacingAndGlyphs">1.0</text>
<line x1="346.9" y1="173.7" x2="350.3" y2="173.7" stroke="#333" stroke-width="0.7"/>
<text x="337.9" y="161.8" font-size="4.2" font-weight="normal" fill="#333" stroke="#333" stroke-width="0.08" textLength="7.8" lengthAdjust="spacingAndGlyphs">2.0</text>
<line x1="346.9" y1="160.2" x2="350.3" y2="160.2" stroke="#333" stroke-width="0.7"/>
<text x="337.9" y="148.3" font-size="4.2" font-weight="normal" fill="#333" stroke="#333" stroke-width="0.08" textLength="7.8" lengthAdjust="spacingAndGlyphs">3.0</text>
<line x1="346.9" y1="146.8" x2="350.3" y2="146.8" stroke="#333" stroke-width="0.7"/>
<text x="337.9" y="134.8" font-size="4.2" font-weight="normal" fill="#333" stroke="#333" stroke-width="0.08" textLength="7.8" lengthAdjust="spacingAndGlyphs">4.0</text>
<line x1="346.9" y1="133.3" x2="350.3" y2="133.3" stroke="#333" stroke-width="0.7"/>
<line x1="350.3" y1="187.2" x2="350.3" y2="188.6" stroke="#333" stroke-width="0.6"/>
<text x="349.0" y="193.5" font-size="4.2" font-weight="normal" fill="#333" stroke="#333" stroke-width="0.08" textLength="2.6" lengthAdjust="spacingAndGlyphs">0</text>
<line x1="373.0" y1="187.2" x2="373.0" y2="188.6" stroke="#333" stroke-width="0.6"/>
<text x="369.3" y="193.5" font-size="4.2" font-weight="normal" fill="#333" stroke="#333" stroke-width="0.08" textLength="7.4" lengthAdjust="spacingAndGlyphs">0.2</text>
<line x1="395.7" y1="187.2" x2="395.7" y2="188.6" stroke="#333" stroke-width="0.6"/>
<text x="392.0" y="193.5" font-size="4.2" font-weight="normal" fill="#333" stroke="#333" stroke-width="0.08" textLength="7.4" lengthAdjust="spacingAndGlyphs">0.4</text>
<line x1="418.5" y1="187.2" x2="418.5" y2="188.6" stroke="#333" stroke-width="0.6"/>
<text x="414.8" y="193.5" font-size="4.2" font-weight="normal" fill="#333" stroke="#333" stroke-width="0.08" textLength="7.4" lengthAdjust="spacingAndGlyphs">0.6</text>
<line x1="441.2" y1="187.2" x2="441.2" y2="188.6" stroke="#333" stroke-width="0.6"/>
<text x="437.5" y="193.5" font-size="4.2" font-weight="normal" fill="#333" stroke="#333" stroke-width="0.08" textLength="7.4" lengthAdjust="spacingAndGlyphs">0.8</text>
<line x1="463.9" y1="187.2" x2="463.9" y2="188.6" stroke="#333" stroke-width="0.6"/>
<text x="460.2" y="193.5" font-size="4.2" font-weight="normal" fill="#333" stroke="#333" stroke-width="0.08" textLength="7.4" lengthAdjust="spacingAndGlyphs">1.0</text>
<line x1="347.3" y1="173.7" x2="464.7" y2="173.7" stroke="#aaa" stroke-width="1.1"/>
<text x="387.6" y="199.9" font-size="5.0" font-weight="normal" fill="#222" stroke="#222" stroke-width="0.10" textLength="42.7" lengthAdjust="spacingAndGlyphs">Fractional effect</text>
<text x="335.2" y="172.3" font-size="4.6" font-weight="normal" fill="#222" stroke="#222" stroke-width="0.09" textLength="27.8" lengthAdjust="spacingAndGlyphs" transform="rotate(-90 335.2 172.3)">CI 1.96 SD</text>
<path d="M354.8,181.0 C356.8,180.7 362.6,179.7 366.9,179.1 C371.2,178.5 375.9,178.1 380.4,177.5 C384.9,176.9 389.4,176.4 393.9,175.6 C398.4,174.8 403.3,173.9 407.3,172.9 C411.3,171.9 414.5,171.0 418.1,169.7 C421.7,168.3 425.8,166.7 428.9,164.8 C432.0,162.9 434.4,160.8 436.9,158.1 C439.4,155.4 441.9,151.8 443.7,148.7 C445.5,145.5 446.5,142.6 447.7,139.2 C448.9,135.8 450.0,131.9 450.9,128.5 C451.8,125.1 452.7,120.6 453.1,119.0" fill="none" stroke="#cc6460" stroke-width="0.75"/>
<path d="M354.8,183.7 C356.8,183.5 362.6,182.8 366.9,182.3 C371.2,181.9 375.9,181.5 380.4,181.0 C384.9,180.5 389.4,179.9 393.9,179.1 C398.4,178.3 402.8,177.4 407.3,176.4 C411.8,175.4 416.3,174.2 420.8,172.9 C425.3,171.7 430.6,170.2 434.2,168.9 C437.8,167.6 440.1,166.4 442.3,164.8 C444.6,163.2 445.9,161.9 447.7,159.4 C449.5,156.9 451.5,153.8 453.1,150.0 C454.7,146.2 456.0,141.7 457.1,136.5 C458.2,131.3 459.4,121.9 459.8,119.0" fill="none" stroke="#cc6460" stroke-width="0.75"/>
<path d="M357.5,187.2 C359.1,186.9 363.1,186.1 366.9,185.5 C370.7,184.9 375.9,184.2 380.4,183.7 C384.9,183.2 389.4,182.9 393.9,182.3 C398.4,181.8 402.8,181.0 407.3,180.4 C411.8,179.8 416.3,179.1 420.8,178.5 C425.3,177.9 430.6,177.2 434.2,176.9 C437.8,176.6 440.1,176.5 442.3,176.9 C444.6,177.3 446.1,178.1 447.7,179.1 C449.3,180.1 450.6,181.2 451.7,182.8 C452.8,184.5 453.6,186.8 454.4,189.0 C455.2,191.2 456.0,194.7 456.3,195.8" fill="none" stroke="#cc6460" stroke-width="0.75"/>
<line x1="385.1" y1="180.7" x2="387.5" y2="182.3" stroke="#e0505a" stroke-width="0.65"/>
<line x1="385.1" y1="182.3" x2="387.5" y2="180.7" stroke="#e0505a" stroke-width="0.65"/>
<line x1="406.1" y1="176.1" x2="408.5" y2="177.7" stroke="#e0505a" stroke-width="0.65"/>
<line x1="406.1" y1="177.7" x2="408.5" y2="176.1" stroke="#e0505a" stroke-width="0.65"/>
<line x1="416.9" y1="172.6" x2="419.3" y2="174.2" stroke="#e0505a" stroke-width="0.65"/>
<line x1="416.9" y1="174.2" x2="419.3" y2="172.6" stroke="#e0505a" stroke-width="0.65"/>
<line x1="425.0" y1="169.9" x2="427.4" y2="171.5" stroke="#e0505a" stroke-width="0.65"/>
<line x1="425.0" y1="171.5" x2="427.4" y2="169.9" stroke="#e0505a" stroke-width="0.65"/>
<line x1="431.7" y1="169.4" x2="434.1" y2="171.0" stroke="#e0505a" stroke-width="0.65"/>
<line x1="431.7" y1="171.0" x2="434.1" y2="169.4" stroke="#e0505a" stroke-width="0.65"/>
<line x1="437.1" y1="169.4" x2="439.5" y2="171.0" stroke="#e0505a" stroke-width="0.65"/>
<line x1="437.1" y1="171.0" x2="439.5" y2="169.4" stroke="#e0505a" stroke-width="0.65"/>
<line x1="441.7" y1="170.7" x2="444.1" y2="172.3" stroke="#e0505a" stroke-width="0.65"/>
<line x1="441.7" y1="172.3" x2="444.1" y2="170.7" stroke="#e0505a" stroke-width="0.65"/>
<text x="393.4" y="149.6" font-size="9.6" font-weight="bold" fill="#111" stroke="#111" stroke-width="0.30" textLength="12.8" lengthAdjust="spacingAndGlyphs">1:2</text>
</g>
<g id="panelC">
<text x="13.7" y="149.9" font-size="11.8" font-weight="bold" fill="#000" stroke="#000" stroke-width="0.30" textLength="7.9" lengthAdjust="spacingAndGlyphs">C</text>
<rect x="51.9" y="152.2" width="88.4" height="61.4" fill="none" stroke="#777" stroke-width="0.8"/>
<line x1="51.9" y1="213.6" x2="53.3" y2="213.6" stroke="#777" stroke-width="0.5"/>
<text x="47.5" y="215.0" font-size="4.0" font-weight="normal" fill="#5c5c5c" stroke="#5c5c5c" stroke-width="0.08" textLength="2.3" lengthAdjust="spacingAndGlyphs">0</text>
<line x1="51.9" y1="195.8" x2="53.3" y2="195.8" stroke="#777" stroke-width="0.5"/>
<text x="45.2" y="197.2" font-size="4.0" font-weight="normal" fill="#5c5c5c" stroke="#5c5c5c" stroke-width="0.08" textLength="4.6" lengthAdjust="spacingAndGlyphs">20</text>
<line x1="51.9" y1="178.0" x2="53.3" y2="178.0" stroke="#777" stroke-width="0.5"/>
<text x="45.2" y="179.4" font-size="4.0" font-weight="normal" fill="#5c5c5c" stroke="#5c5c5c" stroke-width="0.08" textLength="4.6" lengthAdjust="spacingAndGlyphs">40</text>
<line x1="51.9" y1="160.2" x2="53.3" y2="160.2" stroke="#777" stroke-width="0.5"/>
<text x="45.2" y="161.6" font-size="4.0" font-weight="normal" fill="#5c5c5c" stroke="#5c5c5c" stroke-width="0.08" textLength="4.6" lengthAdjust="spacingAndGlyphs">60</text>
<line x1="69.0" y1="208.8" x2="69.0" y2="209.5" stroke="#222" stroke-width="0.6"/>
<line x1="67.7" y1="208.8" x2="70.2" y2="208.8" stroke="#222" stroke-width="0.6"/>
<rect x="63.1" y="209.5" width="11.7" height="4.1" fill="#fff" stroke="#222" stroke-width="0.6"/>
<line x1="86.8" y1="196.2" x2="86.8" y2="197.2" stroke="#222" stroke-width="0.6"/>
<line x1="85.5" y1="196.2" x2="88.1" y2="196.2" stroke="#222" stroke-width="0.6"/>
<rect x="81.1" y="197.2" width="11.4" height="16.4" fill="url(#hatchG)" stroke="#222" stroke-width="0.6"/>
<text x="85.6" y="194.6" font-size="4.3" font-weight="bold" fill="#111" stroke="#111" stroke-width="0.21" textLength="2.4" lengthAdjust="spacingAndGlyphs">a</text>
<line x1="104.8" y1="174.9" x2="104.8" y2="176.2" stroke="#222" stroke-width="0.6"/>
<line x1="103.5" y1="174.9" x2="106.1" y2="174.9" stroke="#222" stroke-width="0.6"/>
<rect x="99.1" y="176.2" width="11.4" height="37.4" fill="url(#hatchH)" stroke="#222" stroke-width="0.6"/>
<text x="101.0" y="173.3" font-size="4.3" font-weight="bold" fill="#111" stroke="#111" stroke-width="0.21" textLength="7.7" lengthAdjust="spacingAndGlyphs">a, b</text>
<line x1="122.7" y1="161.2" x2="122.7" y2="162.5" stroke="#222" stroke-width="0.6"/>
<line x1="121.4" y1="161.2" x2="124.0" y2="161.2" stroke="#222" stroke-width="0.6"/>
<rect x="117.2" y="162.5" width="10.9" height="51.1" fill="url(#hatchD)" stroke="#222" stroke-width="0.6"/>
<text x="116.5" y="159.6" font-size="4.3" font-weight="bold" fill="#111" stroke="#111" stroke-width="0.21" textLength="12.4" lengthAdjust="spacingAndGlyphs">a, c, d</text>
<text x="43.3" y="196.5" font-size="4.6" font-weight="normal" fill="#2a2a2a" stroke="#2a2a2a" stroke-width="0.09" textLength="30.0" lengthAdjust="spacingAndGlyphs" transform="rotate(-90 43.3 196.5)">% dead cells</text>
<text x="81.2" y="156.8" font-size="4.9" font-weight="bold" fill="#111" stroke="#111" stroke-width="0.25" textLength="27.6" lengthAdjust="spacingAndGlyphs">AsPc-1 cells</text>
<text x="53.7" y="163.6" font-size="4.2" font-weight="bold" fill="#111" stroke="#111" stroke-width="0.21" textLength="44.4" lengthAdjust="spacingAndGlyphs"><tspan font-size="3" dy="-1.2">a,</tspan><tspan dy="1.2" font-style="italic">P</tspan> &lt; 0.001 vs. vehicle</text>
<text x="53.7" y="168.1" font-size="4.2" font-weight="bold" fill="#111" stroke="#111" stroke-width="0.21" textLength="36.3" lengthAdjust="spacingAndGlyphs"><tspan font-size="3" dy="-1.2">b,</tspan><tspan dy="1.2" font-style="italic">P</tspan> &lt; 0.02 vs. gem</text>
<text x="53.7" y="172.6" font-size="4.2" font-weight="bold" fill="#111" stroke="#111" stroke-width="0.21" textLength="35.7" lengthAdjust="spacingAndGlyphs"><tspan font-size="3" dy="-1.2">c,</tspan><tspan dy="1.2" font-style="italic">P</tspan> &lt; 0.02 vs. δ-T3</text>
<text x="53.7" y="177.0" font-size="4.2" font-weight="bold" fill="#111" stroke="#111" stroke-width="0.21" textLength="39.1" lengthAdjust="spacingAndGlyphs"><tspan font-size="3" dy="-1.2">d,</tspan><tspan dy="1.2" font-style="italic">P</tspan> &lt; 0.001 vs. gem</text>
<text x="63.2" y="218.1" font-size="3.4" font-weight="bold" fill="#111" stroke="#111" stroke-width="0.17" textLength="10.9" lengthAdjust="spacingAndGlyphs">Vehicle</text>
<text x="77.0" y="218.1" font-size="3.4" font-weight="bold" fill="#111" stroke="#111" stroke-width="0.17" textLength="19.6" lengthAdjust="spacingAndGlyphs">Gemcitabine</text>
<text x="103.0" y="218.1" font-size="3.4" font-weight="bold" fill="#111" stroke="#111" stroke-width="0.17" textLength="5.1" lengthAdjust="spacingAndGlyphs">δ-T3</text>
<text x="115.4" y="218.1" font-size="3.4" font-weight="bold" fill="#111" stroke="#111" stroke-width="0.17" textLength="17.2" lengthAdjust="spacingAndGlyphs">Gem + δ-T3</text>
<text x="80.7" y="221.9" font-size="3.4" font-weight="bold" fill="#111" stroke="#111" stroke-width="0.17" textLength="13.1" lengthAdjust="spacingAndGlyphs">(20 μmol/L)</text>
<text x="97.9" y="221.9" font-size="3.4" font-weight="bold" fill="#111" stroke="#111" stroke-width="0.17" textLength="14.2" lengthAdjust="spacingAndGlyphs">(50 μmol/L)</text>
<rect x="168.6" y="150.5" width="88.6" height="62.7" fill="none" stroke="#777" stroke-width="0.8"/>
<line x1="168.6" y1="213.2" x2="170.0" y2="213.2" stroke="#777" stroke-width="0.5"/>
<text x="164.3" y="214.6" font-size="4.0" font-weight="normal" fill="#5c5c5c" stroke="#5c5c5c" stroke-width="0.08" textLength="2.3" lengthAdjust="spacingAndGlyphs">0</text>
<line x1="168.6" y1="202.8" x2="170.0" y2="202.8" stroke="#777" stroke-width="0.5"/>
<text x="162.0" y="204.2" font-size="4.0" font-weight="normal" fill="#5c5c5c" stroke="#5c5c5c" stroke-width="0.08" textLength="4.6" lengthAdjust="spacingAndGlyphs">10</text>
<line x1="168.6" y1="192.3" x2="170.0" y2="192.3" stroke="#777" stroke-width="0.5"/>
<text x="162.0" y="193.7" font-size="4.0" font-weight="normal" fill="#5c5c5c" stroke="#5c5c5c" stroke-width="0.08" textLength="4.6" lengthAdjust="spacingAndGlyphs">20</text>
<line x1="168.6" y1="181.8" x2="170.0" y2="181.8" stroke="#777" stroke-width="0.5"/>
<text x="162.0" y="183.2" font-size="4.0" font-weight="normal" fill="#5c5c5c" stroke="#5c5c5c" stroke-width="0.08" textLength="4.6" lengthAdjust="spacingAndGlyphs">30</text>
<line x1="168.6" y1="171.4" x2="170.0" y2="171.4" stroke="#777" stroke-width="0.5"/>
<text x="162.0" y="172.8" font-size="4.0" font-weight="normal" fill="#5c5c5c" stroke="#5c5c5c" stroke-width="0.08" textLength="4.6" lengthAdjust="spacingAndGlyphs">40</text>
<line x1="168.6" y1="160.9" x2="170.0" y2="160.9" stroke="#777" stroke-width="0.5"/>
<text x="162.0" y="162.3" font-size="4.0" font-weight="normal" fill="#5c5c5c" stroke="#5c5c5c" stroke-width="0.08" textLength="4.6" lengthAdjust="spacingAndGlyphs">50</text>
<line x1="168.6" y1="150.5" x2="170.0" y2="150.5" stroke="#777" stroke-width="0.5"/>
<text x="162.0" y="151.9" font-size="4.0" font-weight="normal" fill="#5c5c5c" stroke="#5c5c5c" stroke-width="0.08" textLength="4.6" lengthAdjust="spacingAndGlyphs">60</text>
<line x1="187.1" y1="204.9" x2="187.1" y2="205.6" stroke="#222" stroke-width="0.6"/>
<line x1="185.8" y1="204.9" x2="188.4" y2="204.9" stroke="#222" stroke-width="0.6"/>
<rect x="181.3" y="205.6" width="11.6" height="7.6" fill="#fff" stroke="#222" stroke-width="0.6"/>
<line x1="204.5" y1="183.4" x2="204.5" y2="184.5" stroke="#222" stroke-width="0.6"/>
<line x1="203.2" y1="183.4" x2="205.8" y2="183.4" stroke="#222" stroke-width="0.6"/>
<rect x="199.3" y="184.5" width="10.4" height="28.7" fill="url(#hatchG)" stroke="#222" stroke-width="0.6"/>
<text x="203.3" y="181.8" font-size="4.3" font-weight="bold" fill="#111" stroke="#111" stroke-width="0.21" textLength="2.4" lengthAdjust="spacingAndGlyphs">a</text>
<line x1="222.0" y1="172.3" x2="222.0" y2="175.1" stroke="#222" stroke-width="0.6"/>
<line x1="220.7" y1="172.3" x2="223.3" y2="172.3" stroke="#222" stroke-width="0.6"/>
<rect x="216.5" y="175.1" width="11.0" height="38.1" fill="url(#hatchD)" stroke="#222" stroke-width="0.6"/>
<text x="218.2" y="170.7" font-size="4.3" font-weight="bold" fill="#111" stroke="#111" stroke-width="0.21" textLength="7.7" lengthAdjust="spacingAndGlyphs">a, b</text>
<line x1="239.7" y1="162.2" x2="239.7" y2="165.3" stroke="#222" stroke-width="0.6"/>
<line x1="238.4" y1="162.2" x2="241.0" y2="162.2" stroke="#222" stroke-width="0.6"/>
<rect x="233.9" y="165.3" width="11.6" height="47.9" fill="url(#hatchH)" stroke="#222" stroke-width="0.6"/>
<text x="233.5" y="160.6" font-size="4.3" font-weight="bold" fill="#111" stroke="#111" stroke-width="0.21" textLength="12.4" lengthAdjust="spacingAndGlyphs">a, c, d</text>
<text x="161.0" y="200.2" font-size="4.6" font-weight="normal" fill="#2a2a2a" stroke="#2a2a2a" stroke-width="0.09" textLength="23.0" lengthAdjust="spacingAndGlyphs" transform="rotate(-90 161.0 200.2)">% dead cells</text>
<text x="194.5" y="155.8" font-size="4.9" font-weight="bold" fill="#111" stroke="#111" stroke-width="0.25" textLength="35.0" lengthAdjust="spacingAndGlyphs">MiaPaCa-2 cells</text>
<text x="169.8" y="162.6" font-size="4.2" font-weight="bold" fill="#111" stroke="#111" stroke-width="0.21" textLength="44.2" lengthAdjust="spacingAndGlyphs"><tspan font-size="3" dy="-1.2">a,</tspan><tspan dy="1.2" font-style="italic">P</tspan> &lt; 0.001 vs. vehicle</text>
<text x="169.8" y="166.9" font-size="4.2" font-weight="bold" fill="#111" stroke="#111" stroke-width="0.21" textLength="36.1" lengthAdjust="spacingAndGlyphs"><tspan font-size="3" dy="-1.2">b,</tspan><tspan dy="1.2" font-style="italic">P</tspan> &lt; 0.02 vs. gem</text>
<text x="169.8" y="171.9" font-size="4.2" font-weight="bold" fill="#111" stroke="#111" stroke-width="0.21" textLength="35.5" lengthAdjust="spacingAndGlyphs"><tspan font-size="3" dy="-1.2">c,</tspan><tspan dy="1.2" font-style="italic">P</tspan> &lt; 0.02 vs. δ-T3</text>
<text x="169.8" y="176.3" font-size="4.2" font-weight="bold" fill="#111" stroke="#111" stroke-width="0.21" textLength="36.8" lengthAdjust="spacingAndGlyphs"><tspan font-size="3" dy="-1.2">d,</tspan><tspan dy="1.2" font-style="italic">P</tspan> &lt; 0.01 vs. gem</text>
<text x="181.3" y="216.9" font-size="3.4" font-weight="bold" fill="#111" stroke="#111" stroke-width="0.17" textLength="11.4" lengthAdjust="spacingAndGlyphs">Vehicle</text>
<text x="195.5" y="216.9" font-size="3.4" font-weight="bold" fill="#111" stroke="#111" stroke-width="0.17" textLength="19.5" lengthAdjust="spacingAndGlyphs">Gemcitabine</text>
<text x="219.5" y="216.9" font-size="3.4" font-weight="bold" fill="#111" stroke="#111" stroke-width="0.17" textLength="5.1" lengthAdjust="spacingAndGlyphs">δ-T3</text>
<text x="231.5" y="216.9" font-size="3.4" font-weight="bold" fill="#111" stroke="#111" stroke-width="0.17" textLength="17.2" lengthAdjust="spacingAndGlyphs">Gem + δ-T3</text>
<text x="198.0" y="220.9" font-size="3.4" font-weight="bold" fill="#111" stroke="#111" stroke-width="0.17" textLength="13.2" lengthAdjust="spacingAndGlyphs">(20 μmol/L)</text>
<text x="214.2" y="220.9" font-size="3.4" font-weight="bold" fill="#111" stroke="#111" stroke-width="0.17" textLength="14.2" lengthAdjust="spacingAndGlyphs">(50 μmol/L)</text>
<rect x="53.6" y="233.5" width="89.8" height="63.8" fill="none" stroke="#444" stroke-width="0.8"/>
<line x1="53.6" y1="297.3" x2="55.0" y2="297.3" stroke="#444" stroke-width="0.5"/>
<text x="43.1" y="298.7" font-size="4.0" font-weight="normal" fill="#5c5c5c" stroke="#5c5c5c" stroke-width="0.08" textLength="7.7" lengthAdjust="spacingAndGlyphs">0.00</text>
<line x1="53.6" y1="288.2" x2="55.0" y2="288.2" stroke="#444" stroke-width="0.5"/>
<text x="43.1" y="289.6" font-size="4.0" font-weight="normal" fill="#5c5c5c" stroke="#5c5c5c" stroke-width="0.08" textLength="7.7" lengthAdjust="spacingAndGlyphs">0.02</text>
<line x1="53.6" y1="279.1" x2="55.0" y2="279.1" stroke="#444" stroke-width="0.5"/>
<text x="43.1" y="280.5" font-size="4.0" font-weight="normal" fill="#5c5c5c" stroke="#5c5c5c" stroke-width="0.08" textLength="7.7" lengthAdjust="spacingAndGlyphs">0.04</text>
<line x1="53.6" y1="270.0" x2="55.0" y2="270.0" stroke="#444" stroke-width="0.5"/>
<text x="43.1" y="271.4" font-size="4.0" font-weight="normal" fill="#5c5c5c" stroke="#5c5c5c" stroke-width="0.08" textLength="7.7" lengthAdjust="spacingAndGlyphs">0.06</text>
<line x1="53.6" y1="260.8" x2="55.0" y2="260.8" stroke="#444" stroke-width="0.5"/>
<text x="43.1" y="262.2" font-size="4.0" font-weight="normal" fill="#5c5c5c" stroke="#5c5c5c" stroke-width="0.08" textLength="7.7" lengthAdjust="spacingAndGlyphs">0.08</text>
<line x1="53.6" y1="251.7" x2="55.0" y2="251.7" stroke="#444" stroke-width="0.5"/>
<text x="43.1" y="253.1" font-size="4.0" font-weight="normal" fill="#5c5c5c" stroke="#5c5c5c" stroke-width="0.08" textLength="7.7" lengthAdjust="spacingAndGlyphs">0.10</text>
<line x1="53.6" y1="242.6" x2="55.0" y2="242.6" stroke="#444" stroke-width="0.5"/>
<text x="43.1" y="244.0" font-size="4.0" font-weight="normal" fill="#5c5c5c" stroke="#5c5c5c" stroke-width="0.08" textLength="7.7" lengthAdjust="spacingAndGlyphs">0.12</text>
<line x1="53.6" y1="233.5" x2="55.0" y2="233.5" stroke="#444" stroke-width="0.5"/>
<text x="43.1" y="234.9" font-size="4.0" font-weight="normal" fill="#5c5c5c" stroke="#5c5c5c" stroke-width="0.08" textLength="7.7" lengthAdjust="spacingAndGlyphs">0.14</text>
<rect x="66.4" y="293.0" width="11.0" height="4.3" fill="#0a0a0a" stroke="#0a0a0a" stroke-width="0.6"/>
<rect x="84.3" y="274.5" width="11.5" height="22.8" fill="#0a0a0a" stroke="#0a0a0a" stroke-width="0.6"/>
<rect x="102.8" y="261.1" width="11.4" height="36.2" fill="#0a0a0a" stroke="#0a0a0a" stroke-width="0.6"/>
<rect x="121.2" y="243.1" width="11.4" height="54.2" fill="#0a0a0a" stroke="#0a0a0a" stroke-width="0.6"/>
<text x="40.0" y="296.5" font-size="4.2" font-weight="normal" fill="#2a2a2a" stroke="#2a2a2a" stroke-width="0.08" textLength="61.0" lengthAdjust="spacingAndGlyphs" transform="rotate(-90 40.0 296.5)">10-fold increase in apoptosis</text>
<text x="60.8" y="240.0" font-size="4.9" font-weight="bold" fill="#111" stroke="#111" stroke-width="0.25" textLength="56.8" lengthAdjust="spacingAndGlyphs">MiaPaCa-2 cell death ELISA</text>
<text x="66.5" y="301.9" font-size="3.4" font-weight="bold" fill="#111" stroke="#111" stroke-width="0.17" textLength="10.8" lengthAdjust="spacingAndGlyphs">Vehicle</text>
<text x="80.3" y="301.9" font-size="3.4" font-weight="bold" fill="#111" stroke="#111" stroke-width="0.17" textLength="18.9" lengthAdjust="spacingAndGlyphs">Gemcitabine</text>
<text x="106.2" y="301.9" font-size="3.4" font-weight="bold" fill="#111" stroke="#111" stroke-width="0.17" textLength="5.7" lengthAdjust="spacingAndGlyphs">δ-T3</text>
<text x="119.5" y="301.9" font-size="3.4" font-weight="bold" fill="#111" stroke="#111" stroke-width="0.17" textLength="17.1" lengthAdjust="spacingAndGlyphs">Gem + δ-T3</text>
<text x="82.6" y="306.3" font-size="3.4" font-weight="bold" fill="#111" stroke="#111" stroke-width="0.17" textLength="14.3" lengthAdjust="spacingAndGlyphs">(20 μmol/L)</text>
<text x="101.1" y="306.3" font-size="3.4" font-weight="bold" fill="#111" stroke="#111" stroke-width="0.17" textLength="14.7" lengthAdjust="spacingAndGlyphs">(50 μmol/L)</text>
<rect x="168.3" y="231.8" width="88.2" height="65.2" fill="none" stroke="#444" stroke-width="0.8"/>
<line x1="168.3" y1="297.0" x2="169.7" y2="297.0" stroke="#444" stroke-width="0.5"/>
<text x="163.4" y="298.4" font-size="4.0" font-weight="normal" fill="#5c5c5c" stroke="#5c5c5c" stroke-width="0.08" textLength="2.6" lengthAdjust="spacingAndGlyphs">0</text>
<line x1="168.3" y1="280.7" x2="169.7" y2="280.7" stroke="#444" stroke-width="0.5"/>
<text x="160.9" y="282.1" font-size="4.0" font-weight="normal" fill="#5c5c5c" stroke="#5c5c5c" stroke-width="0.08" textLength="5.1" lengthAdjust="spacingAndGlyphs">50</text>
<line x1="168.3" y1="264.4" x2="169.7" y2="264.4" stroke="#444" stroke-width="0.5"/>
<text x="158.3" y="265.8" font-size="4.0" font-weight="normal" fill="#5c5c5c" stroke="#5c5c5c" stroke-width="0.08" textLength="7.7" lengthAdjust="spacingAndGlyphs">100</text>
<line x1="168.3" y1="248.1" x2="169.7" y2="248.1" stroke="#444" stroke-width="0.5"/>
<text x="158.3" y="249.5" font-size="4.0" font-weight="normal" fill="#5c5c5c" stroke="#5c5c5c" stroke-width="0.08" textLength="7.7" lengthAdjust="spacingAndGlyphs">150</text>
<line x1="168.3" y1="231.8" x2="169.7" y2="231.8" stroke="#444" stroke-width="0.5"/>
<text x="158.3" y="233.2" font-size="4.0" font-weight="normal" fill="#5c5c5c" stroke="#5c5c5c" stroke-width="0.08" textLength="7.7" lengthAdjust="spacingAndGlyphs">200</text>
<line x1="186.4" y1="260.8" x2="186.4" y2="264.4" stroke="#222" stroke-width="0.6"/>
<line x1="185.1" y1="260.8" x2="187.8" y2="260.8" stroke="#222" stroke-width="0.6"/>
<rect x="181.0" y="264.4" width="10.9" height="32.6" fill="#0a0a0a" stroke="#0a0a0a" stroke-width="0.6"/>
<line x1="204.8" y1="251.4" x2="204.8" y2="257.6" stroke="#222" stroke-width="0.6"/>
<line x1="203.5" y1="251.4" x2="206.1" y2="251.4" stroke="#222" stroke-width="0.6"/>
<rect x="199.2" y="257.6" width="11.2" height="39.4" fill="#0a0a0a" stroke="#0a0a0a" stroke-width="0.6"/>
<text x="204.0" y="249.8" font-size="4.3" font-weight="bold" fill="#111" stroke="#111" stroke-width="0.21" textLength="1.6" lengthAdjust="spacingAndGlyphs">*</text>
<line x1="223.3" y1="242.9" x2="223.3" y2="247.4" stroke="#222" stroke-width="0.6"/>
<line x1="222.0" y1="242.9" x2="224.6" y2="242.9" stroke="#222" stroke-width="0.6"/>
<rect x="217.7" y="247.4" width="11.2" height="49.6" fill="#0a0a0a" stroke="#0a0a0a" stroke-width="0.6"/>
<text x="221.7" y="241.3" font-size="4.3" font-weight="bold" fill="#111" stroke="#111" stroke-width="0.21" textLength="3.2" lengthAdjust="spacingAndGlyphs">**</text>
<line x1="241.8" y1="238.6" x2="241.8" y2="242.6" stroke="#222" stroke-width="0.6"/>
<line x1="240.4" y1="238.6" x2="243.1" y2="238.6" stroke="#222" stroke-width="0.6"/>
<rect x="236.2" y="242.6" width="11.1" height="54.4" fill="#0a0a0a" stroke="#0a0a0a" stroke-width="0.6"/>
<text x="154.6" y="289.5" font-size="4.8" font-weight="normal" fill="#333" stroke="#333" stroke-width="0.10" textLength="48.5" lengthAdjust="spacingAndGlyphs" transform="rotate(-90 154.6 289.5)">Caspase-3 activity (%)</text>
<text x="190.7" y="236.5" font-size="4.9" font-weight="bold" fill="#111" stroke="#111" stroke-width="0.25" textLength="40.4" lengthAdjust="spacingAndGlyphs">Caspase-3 activity</text>
<text x="235.2" y="237.0" font-size="4.6" font-weight="bold" fill="#111" stroke="#111" stroke-width="0.23" textLength="13.9" lengthAdjust="spacingAndGlyphs">** ***</text>
<text x="169.2" y="241.3" font-size="4.2" font-weight="bold" fill="#111" stroke="#111" stroke-width="0.21" textLength="39.3" lengthAdjust="spacingAndGlyphs">*<tspan font-style="italic">P</tspan> &lt; 0.05 vs. vehicle</text>
<text x="169.2" y="245.4" font-size="4.2" font-weight="bold" fill="#111" stroke="#111" stroke-width="0.21" textLength="40.6" lengthAdjust="spacingAndGlyphs">**<tspan font-style="italic">P</tspan> &lt; 0.01 vs. vehicle</text>
<text x="169.2" y="249.9" font-size="4.2" font-weight="bold" fill="#111" stroke="#111" stroke-width="0.21" textLength="37.0" lengthAdjust="spacingAndGlyphs">***<tspan font-style="italic">P</tspan> &lt; 0.001 vs. gem</text>
<text x="181.0" y="301.9" font-size="3.4" font-weight="bold" fill="#111" stroke="#111" stroke-width="0.17" textLength="10.8" lengthAdjust="spacingAndGlyphs">Vehicle</text>
<text x="195.2" y="301.9" font-size="3.4" font-weight="bold" fill="#111" stroke="#111" stroke-width="0.17" textLength="18.9" lengthAdjust="spacingAndGlyphs">Gemcitabine</text>
<text x="221.0" y="301.9" font-size="3.4" font-weight="bold" fill="#111" stroke="#111" stroke-width="0.17" textLength="5.7" lengthAdjust="spacingAndGlyphs">δ-T3</text>
<text x="233.8" y="301.9" font-size="3.4" font-weight="bold" fill="#111" stroke="#111" stroke-width="0.17" textLength="17.1" lengthAdjust="spacingAndGlyphs">Gem + δ-T3</text>
<text x="197.5" y="306.3" font-size="3.4" font-weight="bold" fill="#111" stroke="#111" stroke-width="0.17" textLength="14.3" lengthAdjust="spacingAndGlyphs">(20 μmol/L)</text>
<text x="215.8" y="306.3" font-size="3.4" font-weight="bold" fill="#111" stroke="#111" stroke-width="0.17" textLength="14.7" lengthAdjust="spacingAndGlyphs">(50 μmol/L)</text>
</g>
<g id="blots">
<text x="53.6" y="324.6" font-size="6.0" font-weight="bold" fill="#111" stroke="#111" stroke-width="0.30" textLength="4.3" lengthAdjust="spacingAndGlyphs">V</text>
<text x="72.8" y="324.6" font-size="6.0" font-weight="bold" fill="#111" stroke="#111" stroke-width="0.30" textLength="13.4" lengthAdjust="spacingAndGlyphs">Gem</text>
<text x="93.5" y="324.6" font-size="6.0" font-weight="bold" fill="#111" stroke="#111" stroke-width="0.30" textLength="13.9" lengthAdjust="spacingAndGlyphs">δ-T3</text>
<text x="113.2" y="324.6" font-size="6.0" font-weight="bold" fill="#111" stroke="#111" stroke-width="0.30" textLength="32.8" lengthAdjust="spacingAndGlyphs">Gem + δ-T3</text>
<rect x="44.3" y="329.2" width="96.2" height="53.1" fill="#333" stroke="#222" stroke-width="0.9"/>
<rect x="44.6" y="329.2" width="95.6" height="16.8" fill="#c6c6c6" stroke="none" stroke-width="0"/>
<rect x="44.6" y="347.0" width="95.6" height="16.4" fill="#dedede" stroke="none" stroke-width="0"/>
<rect x="44.6" y="364.4" width="95.6" height="17.9" fill="#c2c2c2" stroke="none" stroke-width="0"/>
<g filter="url(#blur1)">
<rect x="46.0" y="331.8" width="24.3" height="4.6" rx="7.4" ry="2.3" fill="#0c0c0c"/>
<rect x="72.9" y="330.8" width="16.6" height="4.6" rx="7.4" ry="2.3" fill="#0c0c0c"/>
<rect x="92.1" y="331.4" width="16.6" height="4.2" rx="6.7" ry="2.1" fill="#111"/>
<rect x="114.3" y="332.4" width="20.6" height="2.6" rx="4.2" ry="1.3" fill="#1a1a1a"/>
<rect x="72.5" y="337.8" width="17.0" height="4.6" rx="7.4" ry="2.3" fill="#0c0c0c"/>
<rect x="91.5" y="337.8" width="17.2" height="4.6" rx="7.4" ry="2.3" fill="#0c0c0c"/>
<rect x="114.7" y="339.9" width="20.2" height="2.6" rx="4.2" ry="1.3" fill="#1a1a1a"/>
<rect x="48.0" y="355.8" width="14.0" height="3.0" rx="4.8" ry="1.5" fill="#b0b0b0"/>
<rect x="71.9" y="354.3" width="16.1" height="6.0" rx="8.0" ry="3.0" fill="#444"/>
<rect x="94.5" y="354.6" width="17.2" height="4.6" rx="7.4" ry="2.3" fill="#6a6a6a"/>
<rect x="117.7" y="350.9" width="18.8" height="8.0" rx="9.4" ry="4.0" fill="#454545"/>
<rect x="47.7" y="369.2" width="21.6" height="7.6" rx="10.8" ry="3.8" fill="#0a0a0a"/>
<rect x="72.7" y="369.2" width="19.4" height="7.6" rx="9.7" ry="3.8" fill="#0a0a0a"/>
<rect x="94.1" y="369.2" width="19.6" height="7.6" rx="9.8" ry="3.8" fill="#0a0a0a"/>
<rect x="117.3" y="370.5" width="18.0" height="6.6" rx="9.0" ry="3.3" fill="#0a0a0a"/>
</g>
<rect x="44.3" y="329.2" width="96.2" height="53.1" fill="none" stroke="#222" stroke-width="0.9"/>
<text x="16.9" y="336.2" font-size="5.9" font-weight="bold" fill="#111" stroke="#111" stroke-width="0.30" textLength="23.1" lengthAdjust="spacingAndGlyphs">PARP1</text>
<text x="13.4" y="344.4" font-size="5.9" font-weight="bold" fill="#111" stroke="#111" stroke-width="0.30" textLength="26.6" lengthAdjust="spacingAndGlyphs">cleavage</text>
<text x="28.1" y="356.3" font-size="5.9" font-weight="bold" fill="#111" stroke="#111" stroke-width="0.30" textLength="11.9" lengthAdjust="spacingAndGlyphs">Bax</text>
<text x="18.4" y="374.3" font-size="5.9" font-weight="bold" fill="#111" stroke="#111" stroke-width="0.30" textLength="21.6" lengthAdjust="spacingAndGlyphs">β-Actin</text>
<text x="76.5" y="393.5" font-size="8.2" font-weight="bold" fill="#111" stroke="#111" stroke-width="0.30" textLength="28.0" lengthAdjust="spacingAndGlyphs">AsPc-1</text>
<text x="184.0" y="324.6" font-size="6.0" font-weight="bold" fill="#111" stroke="#111" stroke-width="0.30" textLength="4.3" lengthAdjust="spacingAndGlyphs">V</text>
<text x="201.5" y="324.6" font-size="6.0" font-weight="bold" fill="#111" stroke="#111" stroke-width="0.30" textLength="13.4" lengthAdjust="spacingAndGlyphs">Gem</text>
<text x="223.2" y="324.6" font-size="6.0" font-weight="bold" fill="#111" stroke="#111" stroke-width="0.30" textLength="13.9" lengthAdjust="spacingAndGlyphs">δ-T3</text>
<text x="243.0" y="324.6" font-size="6.0" font-weight="bold" fill="#111" stroke="#111" stroke-width="0.30" textLength="32.8" lengthAdjust="spacingAndGlyphs">Gem + δ-T3</text>
<rect x="174.3" y="329.2" width="96.3" height="53.1" fill="#333" stroke="#222" stroke-width="0.9"/>
<rect x="174.6" y="329.2" width="95.7" height="16.8" fill="#bdbdbd" stroke="none" stroke-width="0"/>
<rect x="174.6" y="347.0" width="95.7" height="16.4" fill="#d0d0d0" stroke="none" stroke-width="0"/>
<rect x="174.6" y="364.4" width="95.7" height="17.9" fill="#d2d2d2" stroke="none" stroke-width="0"/>
<g filter="url(#blur1)">
<rect x="176.0" y="332.8" width="24.3" height="3.8" rx="6.1" ry="1.9" fill="#0c0c0c"/>
<rect x="203.3" y="331.4" width="18.2" height="4.6" rx="7.4" ry="2.3" fill="#0c0c0c"/>
<rect x="223.5" y="330.9" width="18.2" height="5.2" rx="8.3" ry="2.6" fill="#0a0a0a"/>
<rect x="244.3" y="332.1" width="24.7" height="4.0" rx="6.4" ry="2.0" fill="#0c0c0c"/>
<rect x="189.0" y="340.5" width="9.5" height="2.0" rx="3.2" ry="1.0" fill="#8a8a8a"/>
<rect x="205.3" y="337.9" width="16.2" height="4.4" rx="7.0" ry="2.2" fill="#0c0c0c"/>
<rect x="224.0" y="337.7" width="17.7" height="6.0" rx="8.8" ry="3.0" fill="#0a0a0a"/>
<rect x="244.7" y="339.3" width="24.3" height="3.6" rx="5.8" ry="1.8" fill="#111"/>
<rect x="182.5" y="353.8" width="11.7" height="3.0" rx="4.8" ry="1.5" fill="#555"/>
<rect x="197.3" y="353.2" width="21.2" height="4.2" rx="6.7" ry="2.1" fill="#2a2a2a"/>
<rect x="220.5" y="355.0" width="19.2" height="3.8" rx="6.1" ry="1.9" fill="#2a2a2a"/>
<rect x="245.7" y="353.0" width="21.3" height="4.6" rx="7.4" ry="2.3" fill="#444"/>
<rect x="176.5" y="371.6" width="15.3" height="3.8" rx="6.1" ry="1.9" fill="#0a0a0a"/>
<rect x="199.3" y="370.6" width="18.7" height="5.8" rx="9.3" ry="2.9" fill="#0a0a0a"/>
<rect x="223.5" y="371.7" width="17.5" height="4.6" rx="7.4" ry="2.3" fill="#0a0a0a"/>
<rect x="247.7" y="372.4" width="14.2" height="4.2" rx="6.7" ry="2.1" fill="#0a0a0a"/>
</g>
<rect x="174.3" y="329.2" width="96.3" height="53.1" fill="none" stroke="#222" stroke-width="0.9"/>
<text x="147.8" y="335.2" font-size="5.9" font-weight="bold" fill="#111" stroke="#111" stroke-width="0.30" textLength="21.6" lengthAdjust="spacingAndGlyphs">PARP1</text>
<text x="142.8" y="343.0" font-size="5.9" font-weight="bold" fill="#111" stroke="#111" stroke-width="0.30" textLength="26.6" lengthAdjust="spacingAndGlyphs">cleavage</text>
<text x="157.5" y="359.8" font-size="5.9" font-weight="bold" fill="#111" stroke="#111" stroke-width="0.30" textLength="11.9" lengthAdjust="spacingAndGlyphs">Bax</text>
<text x="147.8" y="376.2" font-size="5.9" font-weight="bold" fill="#111" stroke="#111" stroke-width="0.30" textLength="21.6" lengthAdjust="spacingAndGlyphs">β-Actin</text>
<text x="203.5" y="393.5" font-size="8.2" font-weight="bold" fill="#111" stroke="#111" stroke-width="0.30" textLength="42.5" lengthAdjust="spacingAndGlyphs">MiaPaCa-2</text>
</g>
<g id="panelD">
<text x="297.8" y="228.6" font-size="11.8" font-weight="bold" fill="#000" stroke="#000" stroke-width="0.30" textLength="8.6" lengthAdjust="spacingAndGlyphs">D</text>
<clipPath id="photoclip"><rect x="313.3" y="229.0" width="192.8" height="37.6"/></clipPath>
<g clip-path="url(#photoclip)">
<rect x="312" y="228" width="196" height="40" fill="url(#photobg)"/>
<g filter="url(#blur2)">
<radialGradient id="din0" cx="45%" cy="45%" r="55%"><stop offset="0" stop-color="#da8b75"/><stop offset="0.85" stop-color="#d07a62"/><stop offset="1" stop-color="#c8624c"/></radialGradient>
<linearGradient id="drim0" x1="0" y1="0" x2="1" y2="1"><stop offset="0" stop-color="#c8624c"/><stop offset="1" stop-color="#b4503c"/></linearGradient>
<ellipse cx="339.5" cy="247.9" rx="20.9" ry="19.4" fill="url(#drim0)"/>
<ellipse cx="338.9" cy="247.5" rx="19.299999999999997" ry="17.9" fill="none" stroke="#ee9c84" stroke-width="0.9" opacity="0.8"/>
<ellipse cx="337.5" cy="246.4" rx="16.5" ry="15.499999999999998" fill="url(#din0)"/>
<path d="M323.0,241.9 A16.5,15.5 0 0 1 342.5,230.9" fill="none" stroke="#f6b4a2" stroke-width="0.7" opacity="0.7"/>
<radialGradient id="din1" cx="45%" cy="45%" r="55%"><stop offset="0" stop-color="#e28269"/><stop offset="0.85" stop-color="#d66c54"/><stop offset="1" stop-color="#c85a44"/></radialGradient>
<linearGradient id="drim1" x1="0" y1="0" x2="1" y2="1"><stop offset="0" stop-color="#c85a44"/><stop offset="1" stop-color="#b44c38"/></linearGradient>
<ellipse cx="385.3" cy="247.9" rx="20.9" ry="19.4" fill="url(#drim1)"/>
<ellipse cx="384.7" cy="247.5" rx="19.299999999999997" ry="17.9" fill="none" stroke="#ee9c84" stroke-width="0.9" opacity="0.8"/>
<ellipse cx="383.3" cy="246.4" rx="16.5" ry="15.499999999999998" fill="url(#din1)"/>
<path d="M368.8,241.9 A16.5,15.5 0 0 1 388.3,230.9" fill="none" stroke="#f6b4a2" stroke-width="0.7" opacity="0.7"/>
<radialGradient id="din2" cx="45%" cy="45%" r="55%"><stop offset="0" stop-color="#d4644c"/><stop offset="0.85" stop-color="#cc5840"/><stop offset="1" stop-color="#c24e38"/></radialGradient>
<linearGradient id="drim2" x1="0" y1="0" x2="1" y2="1"><stop offset="0" stop-color="#c24e38"/><stop offset="1" stop-color="#ac402e"/></linearGradient>
<ellipse cx="434.7" cy="247.9" rx="21.3" ry="19.4" fill="url(#drim2)"/>
<ellipse cx="434.09999999999997" cy="247.5" rx="19.7" ry="17.9" fill="none" stroke="#ee9c84" stroke-width="0.9" opacity="0.8"/>
<ellipse cx="432.7" cy="246.4" rx="16.9" ry="15.499999999999998" fill="url(#din2)"/>
<path d="M418.2,241.9 A16.9,15.5 0 0 1 437.7,230.9" fill="none" stroke="#f6b4a2" stroke-width="0.7" opacity="0.7"/>
<radialGradient id="din3" cx="45%" cy="45%" r="55%"><stop offset="0" stop-color="#d6684f"/><stop offset="0.85" stop-color="#ce5a44"/><stop offset="1" stop-color="#c4503a"/></radialGradient>
<linearGradient id="drim3" x1="0" y1="0" x2="1" y2="1"><stop offset="0" stop-color="#c4503a"/><stop offset="1" stop-color="#ae4230"/></linearGradient>
<ellipse cx="482.8" cy="247.9" rx="21.3" ry="19.4" fill="url(#drim3)"/>
<ellipse cx="482.2" cy="247.5" rx="19.7" ry="17.9" fill="none" stroke="#ee9c84" stroke-width="0.9" opacity="0.8"/>
<ellipse cx="480.8" cy="246.4" rx="16.9" ry="15.499999999999998" fill="url(#din3)"/>
<path d="M466.3,241.9 A16.9,15.5 0 0 1 485.8,230.9" fill="none" stroke="#f6b4a2" stroke-width="0.7" opacity="0.7"/>
</g>
</g>
<text x="321.6" y="276.4" font-size="5.9" font-weight="bold" fill="#111" stroke="#111" stroke-width="0.30" textLength="22.2" lengthAdjust="spacingAndGlyphs">Vehicle</text>
<text x="355.5" y="276.4" font-size="5.9" font-weight="bold" fill="#111" stroke="#111" stroke-width="0.30" textLength="50.8" lengthAdjust="spacingAndGlyphs">Gem (20 μmol/L)</text>
<text x="412.4" y="276.4" font-size="5.9" font-weight="bold" fill="#111" stroke="#111" stroke-width="0.30" textLength="49.3" lengthAdjust="spacingAndGlyphs">δ-T3 (50 μmol/L)</text>
<text x="469.5" y="276.4" font-size="5.9" font-weight="bold" fill="#111" stroke="#111" stroke-width="0.30" textLength="34.5" lengthAdjust="spacingAndGlyphs">Gem + δ-T3</text>
<rect x="355.4" y="293.4" width="116.2" height="77.0" fill="none" stroke="#333" stroke-width="0.8"/>
<line x1="355.4" y1="370.4" x2="356.9" y2="370.4" stroke="#333" stroke-width="0.5"/>
<text x="350.1" y="372.2" font-size="5.2" font-weight="normal" fill="#222" stroke="#222" stroke-width="0.10" textLength="3.0" lengthAdjust="spacingAndGlyphs">0</text>
<line x1="355.4" y1="355.0" x2="356.9" y2="355.0" stroke="#333" stroke-width="0.5"/>
<text x="344.2" y="356.8" font-size="5.2" font-weight="normal" fill="#222" stroke="#222" stroke-width="0.10" textLength="8.9" lengthAdjust="spacingAndGlyphs">200</text>
<line x1="355.4" y1="339.6" x2="356.9" y2="339.6" stroke="#333" stroke-width="0.5"/>
<text x="344.2" y="341.4" font-size="5.2" font-weight="normal" fill="#222" stroke="#222" stroke-width="0.10" textLength="8.9" lengthAdjust="spacingAndGlyphs">400</text>
<line x1="355.4" y1="324.2" x2="356.9" y2="324.2" stroke="#333" stroke-width="0.5"/>
<text x="344.2" y="326.0" font-size="5.2" font-weight="normal" fill="#222" stroke="#222" stroke-width="0.10" textLength="8.9" lengthAdjust="spacingAndGlyphs">600</text>
<line x1="355.4" y1="308.8" x2="356.9" y2="308.8" stroke="#333" stroke-width="0.5"/>
<text x="344.2" y="310.6" font-size="5.2" font-weight="normal" fill="#222" stroke="#222" stroke-width="0.10" textLength="8.9" lengthAdjust="spacingAndGlyphs">800</text>
<line x1="355.4" y1="293.4" x2="356.9" y2="293.4" stroke="#333" stroke-width="0.5"/>
<text x="339.5" y="295.2" font-size="5.2" font-weight="normal" fill="#222" stroke="#222" stroke-width="0.10" textLength="13.6" lengthAdjust="spacingAndGlyphs">1,000</text>
<text x="340.4" y="360.5" font-size="5.6" font-weight="normal" fill="#222" stroke="#222" stroke-width="0.11" textLength="55.5" lengthAdjust="spacingAndGlyphs" transform="rotate(-90 340.4 360.5)">Number of colonies</text>
<line x1="379.2" y1="304.9" x2="379.2" y2="308.8" stroke="#333" stroke-width="0.7"/>
<line x1="377.8" y1="304.9" x2="380.8" y2="304.9" stroke="#333" stroke-width="0.7"/>
<rect x="372.3" y="308.8" width="13.9" height="61.6" fill="#fff" stroke="#8a8a8a" stroke-width="0.8"/>
<line x1="402.1" y1="359.0" x2="402.1" y2="362.1" stroke="#333" stroke-width="0.7"/>
<line x1="400.6" y1="359.0" x2="403.6" y2="359.0" stroke="#333" stroke-width="0.7"/>
<rect x="395.0" y="362.1" width="14.2" height="8.3" fill="url(#hatchG)" stroke="#444" stroke-width="0.8"/>
<text x="400.4" y="357.8" font-size="4.4" font-weight="bold" fill="#111" stroke="#111" stroke-width="0.22" textLength="3.4" lengthAdjust="spacingAndGlyphs">**</text>
<line x1="425.2" y1="354.5" x2="425.2" y2="356.2" stroke="#333" stroke-width="0.7"/>
<line x1="423.7" y1="354.5" x2="426.7" y2="354.5" stroke="#333" stroke-width="0.7"/>
<rect x="418.0" y="356.2" width="14.4" height="14.2" fill="url(#hatchH)" stroke="#444" stroke-width="0.8"/>
<text x="421.4" y="353.3" font-size="4.4" font-weight="bold" fill="#111" stroke="#111" stroke-width="0.22" textLength="7.6" lengthAdjust="spacingAndGlyphs">*, #</text>
<rect x="441.2" y="369.7" width="14.0" height="0.7" fill="#ddd" stroke="#888" stroke-width="0.8"/>
<text x="443.0" y="367.2" font-size="4.4" font-weight="bold" fill="#111" stroke="#111" stroke-width="0.22" textLength="14.0" lengthAdjust="spacingAndGlyphs">**,##</text>
<text x="371.3" y="378.6" font-size="4.4" font-weight="bold" fill="#111" stroke="#111" stroke-width="0.22" textLength="13.7" lengthAdjust="spacingAndGlyphs">Vehicle</text>
<text x="388.8" y="378.6" font-size="4.4" font-weight="bold" fill="#111" stroke="#111" stroke-width="0.22" textLength="28.2" lengthAdjust="spacingAndGlyphs">Gemcitabine</text>
<text x="422.5" y="378.6" font-size="4.4" font-weight="bold" fill="#111" stroke="#111" stroke-width="0.22" textLength="8.0" lengthAdjust="spacingAndGlyphs">δ-T3</text>
<text x="437.5" y="378.6" font-size="4.4" font-weight="bold" fill="#111" stroke="#111" stroke-width="0.22" textLength="23.8" lengthAdjust="spacingAndGlyphs">Gem + δ-T3</text>
<text x="378.5" y="300.0" font-size="5.1" font-weight="bold" fill="#111" stroke="#111" stroke-width="0.26" textLength="67.7" lengthAdjust="spacingAndGlyphs">Soft Agar Colony Formation</text>
<text x="409.5" y="312.7" font-size="4.3" font-weight="bold" fill="#111" stroke="#111" stroke-width="0.21" textLength="42.8" lengthAdjust="spacingAndGlyphs">*<tspan font-style="italic">P</tspan> &lt; 0.01 vs. vehicle</text>
<text x="409.5" y="317.3" font-size="4.3" font-weight="bold" fill="#111" stroke="#111" stroke-width="0.21" textLength="46.7" lengthAdjust="spacingAndGlyphs">**<tspan font-style="italic">P</tspan> &lt; 0.001 vs. vehicle</text>
<text x="409.5" y="321.9" font-size="4.3" font-weight="bold" fill="#111" stroke="#111" stroke-width="0.21" textLength="36.7" lengthAdjust="spacingAndGlyphs">#<tspan font-style="italic">P</tspan> &lt; 0.05 vs. gem</text>
<text x="409.5" y="326.6" font-size="4.3" font-weight="bold" fill="#111" stroke="#111" stroke-width="0.21" textLength="58.2" lengthAdjust="spacingAndGlyphs">##<tspan font-style="italic">P</tspan> &lt; 0.001 vs. gem or δ-T3</text>
</g>
<g id="frame"><rect x="0" y="0" width="520" height="1" fill="#7c7c7c"/><rect x="0" y="0" width="1.1" height="407" fill="#828282"/><rect x="518.9" y="0" width="1.1" height="407" fill="#828282"/><rect x="0" y="405" width="520" height="1" fill="#c2c2c2"/><rect x="0" y="406" width="520" height="1" fill="#8c8c8c"/></g>
</g>
</svg>
</body>
</html>
